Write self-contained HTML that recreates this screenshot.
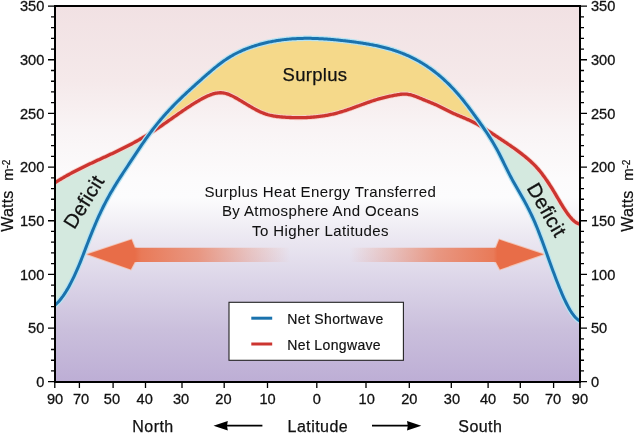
<!DOCTYPE html>
<html><head><meta charset="utf-8"><style>
html,body{margin:0;padding:0;background:#fff;}
svg{display:block;will-change:transform;font-family:"Liberation Sans",sans-serif;}
</style></head><body>
<svg width="638" height="436" viewBox="0 0 638 436">
<defs>
<linearGradient id="bg" x1="0" y1="6" x2="0" y2="382" gradientUnits="userSpaceOnUse">
<stop offset="0" stop-color="#f1e1e3"/>
<stop offset="0.197" stop-color="#f5e9ea"/>
<stop offset="0.33" stop-color="#f9f4f5"/>
<stop offset="0.46" stop-color="#fcfbfc"/>
<stop offset="0.51" stop-color="#fcfcfd"/>
<stop offset="0.598" stop-color="#eeebf3"/>
<stop offset="0.742" stop-color="#dad3e7"/>
<stop offset="0.862" stop-color="#cabfdc"/>
<stop offset="1" stop-color="#bdaed5"/>
</linearGradient>
<linearGradient id="la" x1="86" y1="0" x2="290" y2="0" gradientUnits="userSpaceOnUse">
<stop offset="0" stop-color="#e86d48"/>
<stop offset="0.24" stop-color="#e86d48"/>
<stop offset="0.27" stop-color="#e97a58"/>
<stop offset="0.55" stop-color="#e97a58" stop-opacity="0.72"/>
<stop offset="0.8" stop-color="#e97a58" stop-opacity="0.3"/>
<stop offset="1" stop-color="#e97a58" stop-opacity="0"/>
</linearGradient>
<linearGradient id="ra" x1="544" y1="0" x2="350" y2="0" gradientUnits="userSpaceOnUse">
<stop offset="0" stop-color="#e86d48"/>
<stop offset="0.24" stop-color="#e86d48"/>
<stop offset="0.26" stop-color="#e97a58"/>
<stop offset="0.55" stop-color="#e97a58" stop-opacity="0.72"/>
<stop offset="0.8" stop-color="#e97a58" stop-opacity="0.3"/>
<stop offset="1" stop-color="#e97a58" stop-opacity="0"/>
</linearGradient>
<clipPath id="mid"><rect x="151.7" y="0" width="330.8" height="400"/></clipPath>
<clipPath id="plot"><rect x="55" y="6" width="525" height="376"/></clipPath>
</defs>
<rect x="55" y="6" width="525" height="376" fill="url(#bg)"/>
<g clip-path="url(#plot)">
<path d="M55.0,182.71 L56.0,182.08 L57.0,181.45 L58.0,180.83 L59.0,180.21 L60.0,179.60 L61.0,179.00 L62.0,178.41 L63.0,177.82 L64.0,177.24 L65.0,176.66 L66.0,176.10 L67.0,175.53 L68.0,174.98 L69.0,174.43 L70.0,173.88 L71.0,173.34 L72.0,172.80 L73.0,172.27 L74.0,171.75 L75.0,171.23 L76.0,170.71 L77.0,170.20 L78.0,169.69 L79.0,169.18 L80.0,168.68 L81.0,168.19 L82.0,167.69 L83.0,167.20 L84.0,166.71 L85.0,166.23 L86.0,165.75 L87.0,165.27 L88.0,164.79 L89.0,164.32 L90.0,163.84 L91.0,163.37 L92.0,162.91 L93.0,162.44 L94.0,161.97 L95.0,161.51 L96.0,161.04 L97.0,160.58 L98.0,160.12 L99.0,159.66 L100.0,159.20 L101.0,158.74 L102.0,158.28 L103.0,157.82 L104.0,157.36 L105.0,156.90 L106.0,156.44 L107.0,155.97 L108.0,155.51 L109.0,155.05 L110.0,154.58 L111.0,154.11 L112.0,153.64 L113.0,153.17 L114.0,152.70 L115.0,152.23 L116.0,151.75 L117.0,151.27 L118.0,150.79 L119.0,150.31 L120.0,149.82 L121.0,149.33 L122.0,148.84 L123.0,148.34 L124.0,147.84 L125.0,147.33 L126.0,146.83 L127.0,146.31 L128.0,145.80 L129.0,145.28 L130.0,144.75 L131.0,144.22 L132.0,143.69 L133.0,143.15 L134.0,142.60 L135.0,142.05 L136.0,141.50 L137.0,140.94 L138.0,140.38 L139.0,139.81 L140.0,139.24 L141.0,138.66 L142.0,138.08 L143.0,137.49 L144.0,136.89 L145.0,136.30 L146.0,135.69 L147.0,135.08 L148.0,134.47 L149.0,133.85 L150.0,133.23 L151.0,132.60 L152.0,131.96 L153.0,131.32 L154.0,130.68 L155.0,130.03 L156.0,129.37 L157.0,128.71 L158.0,128.04 L159.0,127.37 L160.0,126.70 L161.0,126.02 L162.0,125.33 L163.0,124.64 L164.0,123.95 L165.0,123.26 L166.0,122.56 L167.0,121.86 L168.0,121.16 L169.0,120.46 L170.0,119.76 L171.0,119.05 L172.0,118.35 L173.0,117.64 L174.0,116.94 L175.0,116.23 L176.0,115.53 L177.0,114.83 L178.0,114.13 L179.0,113.44 L180.0,112.74 L181.0,112.05 L182.0,111.36 L183.0,110.67 L184.0,109.99 L185.0,109.32 L186.0,108.64 L187.0,107.98 L188.0,107.31 L189.0,106.66 L190.0,106.01 L191.0,105.36 L192.0,104.72 L193.0,104.09 L194.0,103.47 L195.0,102.86 L196.0,102.25 L197.0,101.65 L198.0,101.06 L199.0,100.48 L200.0,99.91 L201.0,99.35 L202.0,98.80 L203.0,98.26 L204.0,97.74 L205.0,97.23 L206.0,96.74 L207.0,96.27 L208.0,95.82 L209.0,95.40 L210.0,94.99 L211.0,94.61 L212.0,94.26 L213.0,93.94 L214.0,93.65 L215.0,93.40 L216.0,93.18 L217.0,93.01 L218.0,92.87 L219.0,92.78 L220.0,92.73 L221.0,92.73 L222.0,92.79 L223.0,92.89 L224.0,93.05 L225.0,93.26 L226.0,93.52 L227.0,93.82 L228.0,94.16 L229.0,94.54 L230.0,94.95 L231.0,95.39 L232.0,95.87 L233.0,96.37 L234.0,96.89 L235.0,97.43 L236.0,97.98 L237.0,98.55 L238.0,99.13 L239.0,99.72 L240.0,100.31 L241.0,100.91 L242.0,101.51 L243.0,102.11 L244.0,102.72 L245.0,103.33 L246.0,103.93 L247.0,104.54 L248.0,105.14 L249.0,105.73 L250.0,106.33 L251.0,106.91 L252.0,107.49 L253.0,108.06 L254.0,108.62 L255.0,109.16 L256.0,109.70 L257.0,110.22 L258.0,110.72 L259.0,111.21 L260.0,111.69 L261.0,112.14 L262.0,112.58 L263.0,112.99 L264.0,113.38 L265.0,113.75 L266.0,114.10 L267.0,114.42 L268.0,114.72 L269.0,114.99 L270.0,115.24 L271.0,115.48 L272.0,115.69 L273.0,115.88 L274.0,116.06 L275.0,116.22 L276.0,116.37 L277.0,116.50 L278.0,116.63 L279.0,116.73 L280.0,116.83 L281.0,116.92 L282.0,117.01 L283.0,117.08 L284.0,117.15 L285.0,117.22 L286.0,117.28 L287.0,117.33 L288.0,117.39 L289.0,117.44 L290.0,117.48 L291.0,117.52 L292.0,117.56 L293.0,117.59 L294.0,117.61 L295.0,117.63 L296.0,117.65 L297.0,117.66 L298.0,117.67 L299.0,117.67 L300.0,117.67 L301.0,117.66 L302.0,117.64 L303.0,117.62 L304.0,117.60 L305.0,117.56 L306.0,117.53 L307.0,117.48 L308.0,117.44 L309.0,117.38 L310.0,117.32 L311.0,117.25 L312.0,117.18 L313.0,117.10 L314.0,117.01 L315.0,116.92 L316.0,116.82 L317.0,116.71 L318.0,116.60 L319.0,116.48 L320.0,116.35 L321.0,116.22 L322.0,116.08 L323.0,115.93 L324.0,115.77 L325.0,115.61 L326.0,115.44 L327.0,115.26 L328.0,115.07 L329.0,114.87 L330.0,114.67 L331.0,114.46 L332.0,114.24 L333.0,114.02 L334.0,113.78 L335.0,113.54 L336.0,113.29 L337.0,113.03 L338.0,112.76 L339.0,112.48 L340.0,112.19 L341.0,111.90 L342.0,111.59 L343.0,111.28 L344.0,110.97 L345.0,110.64 L346.0,110.31 L347.0,109.98 L348.0,109.64 L349.0,109.29 L350.0,108.94 L351.0,108.59 L352.0,108.23 L353.0,107.87 L354.0,107.51 L355.0,107.15 L356.0,106.78 L357.0,106.41 L358.0,106.04 L359.0,105.68 L360.0,105.31 L361.0,104.94 L362.0,104.57 L363.0,104.21 L364.0,103.84 L365.0,103.48 L366.0,103.12 L367.0,102.77 L368.0,102.41 L369.0,102.07 L370.0,101.72 L371.0,101.38 L372.0,101.05 L373.0,100.72 L374.0,100.40 L375.0,100.09 L376.0,99.78 L377.0,99.48 L378.0,99.19 L379.0,98.90 L380.0,98.63 L381.0,98.36 L382.0,98.09 L383.0,97.84 L384.0,97.59 L385.0,97.34 L386.0,97.10 L387.0,96.87 L388.0,96.65 L389.0,96.42 L390.0,96.21 L391.0,96.00 L392.0,95.79 L393.0,95.59 L394.0,95.40 L395.0,95.21 L396.0,95.02 L397.0,94.84 L398.0,94.67 L399.0,94.51 L400.0,94.38 L401.0,94.26 L402.0,94.17 L403.0,94.11 L404.0,94.07 L405.0,94.08 L406.0,94.12 L407.0,94.21 L408.0,94.34 L409.0,94.51 L410.0,94.72 L411.0,94.96 L412.0,95.23 L413.0,95.53 L414.0,95.86 L415.0,96.20 L416.0,96.57 L417.0,96.96 L418.0,97.35 L419.0,97.76 L420.0,98.18 L421.0,98.60 L422.0,99.02 L423.0,99.44 L424.0,99.86 L425.0,100.27 L426.0,100.68 L427.0,101.08 L428.0,101.49 L429.0,101.89 L430.0,102.30 L431.0,102.71 L432.0,103.12 L433.0,103.54 L434.0,103.96 L435.0,104.39 L436.0,104.83 L437.0,105.27 L438.0,105.73 L439.0,106.20 L440.0,106.68 L441.0,107.17 L442.0,107.68 L443.0,108.19 L444.0,108.71 L445.0,109.24 L446.0,109.76 L447.0,110.27 L448.0,110.78 L449.0,111.29 L450.0,111.78 L451.0,112.25 L452.0,112.72 L453.0,113.18 L454.0,113.63 L455.0,114.07 L456.0,114.50 L457.0,114.93 L458.0,115.36 L459.0,115.78 L460.0,116.20 L461.0,116.62 L462.0,117.04 L463.0,117.46 L464.0,117.88 L465.0,118.31 L466.0,118.74 L467.0,119.18 L468.0,119.62 L469.0,120.07 L470.0,120.53 L471.0,121.00 L472.0,121.48 L473.0,121.98 L474.0,122.49 L475.0,123.01 L476.0,123.54 L477.0,124.09 L478.0,124.65 L479.0,125.22 L480.0,125.81 L481.0,126.40 L482.0,127.00 L483.0,127.61 L484.0,128.23 L485.0,128.86 L486.0,129.49 L487.0,130.13 L488.0,130.78 L489.0,131.43 L490.0,132.08 L491.0,132.74 L492.0,133.40 L493.0,134.07 L494.0,134.73 L495.0,135.40 L496.0,136.06 L497.0,136.73 L498.0,137.39 L499.0,138.06 L500.0,138.72 L501.0,139.38 L502.0,140.05 L503.0,140.71 L504.0,141.37 L505.0,142.04 L506.0,142.71 L507.0,143.38 L508.0,144.06 L509.0,144.74 L510.0,145.42 L511.0,146.11 L512.0,146.81 L513.0,147.51 L514.0,148.22 L515.0,148.93 L516.0,149.65 L517.0,150.38 L518.0,151.12 L519.0,151.87 L520.0,152.63 L521.0,153.39 L522.0,154.17 L523.0,154.96 L524.0,155.76 L525.0,156.58 L526.0,157.40 L527.0,158.24 L528.0,159.10 L529.0,159.96 L530.0,160.85 L531.0,161.75 L532.0,162.67 L533.0,163.62 L534.0,164.60 L535.0,165.61 L536.0,166.67 L537.0,167.77 L538.0,168.91 L539.0,170.09 L540.0,171.30 L541.0,172.55 L542.0,173.84 L543.0,175.16 L544.0,176.52 L545.0,177.91 L546.0,179.33 L547.0,180.78 L548.0,182.26 L549.0,183.78 L550.0,185.32 L551.0,186.89 L552.0,188.49 L553.0,190.11 L554.0,191.76 L555.0,193.43 L556.0,195.11 L557.0,196.80 L558.0,198.50 L559.0,200.18 L560.0,201.86 L561.0,203.53 L562.0,205.17 L563.0,206.78 L564.0,208.36 L565.0,209.90 L566.0,211.40 L567.0,212.84 L568.0,214.22 L569.0,215.55 L570.0,216.80 L571.0,217.97 L572.0,219.06 L573.0,220.07 L574.0,220.98 L575.0,221.79 L576.0,222.49 L577.0,223.09 L578.0,223.56 L579.0,223.91 L580.0,224.13 L580.0,320.98 L579.0,320.44 L578.0,319.77 L577.0,318.96 L576.0,318.03 L575.0,316.96 L574.0,315.78 L573.0,314.48 L572.0,313.07 L571.0,311.56 L570.0,309.94 L569.0,308.22 L568.0,306.41 L567.0,304.51 L566.0,302.52 L565.0,300.45 L564.0,298.30 L563.0,296.09 L562.0,293.80 L561.0,291.45 L560.0,289.05 L559.0,286.58 L558.0,284.07 L557.0,281.51 L556.0,278.91 L555.0,276.27 L554.0,273.60 L553.0,270.90 L552.0,268.18 L551.0,265.43 L550.0,262.67 L549.0,259.90 L548.0,257.13 L547.0,254.35 L546.0,251.57 L545.0,248.80 L544.0,246.04 L543.0,243.30 L542.0,240.57 L541.0,237.87 L540.0,235.21 L539.0,232.59 L538.0,230.02 L537.0,227.52 L536.0,225.08 L535.0,222.71 L534.0,220.41 L533.0,218.17 L532.0,215.99 L531.0,213.87 L530.0,211.81 L529.0,209.79 L528.0,207.82 L527.0,205.89 L526.0,204.00 L525.0,202.14 L524.0,200.31 L523.0,198.50 L522.0,196.72 L521.0,194.96 L520.0,193.21 L519.0,191.47 L518.0,189.73 L517.0,187.99 L516.0,186.24 L515.0,184.49 L514.0,182.71 L513.0,180.91 L512.0,179.09 L511.0,177.23 L510.0,175.34 L509.0,173.40 L508.0,171.42 L507.0,169.42 L506.0,167.39 L505.0,165.35 L504.0,163.30 L503.0,161.26 L502.0,159.23 L501.0,157.22 L500.0,155.23 L499.0,153.29 L498.0,151.39 L497.0,149.54 L496.0,147.73 L495.0,145.96 L494.0,144.23 L493.0,142.53 L492.0,140.88 L491.0,139.25 L490.0,137.65 L489.0,136.08 L488.0,134.54 L487.0,133.02 L486.0,131.52 L485.0,130.04 L484.0,128.58 L483.0,127.14 L482.0,125.70 L481.0,124.28 L480.0,122.87 L479.0,121.46 L478.0,120.06 L477.0,118.66 L476.0,117.27 L475.0,115.89 L474.0,114.51 L473.0,113.14 L472.0,111.78 L471.0,110.43 L470.0,109.09 L469.0,107.76 L468.0,106.44 L467.0,105.13 L466.0,103.84 L465.0,102.56 L464.0,101.30 L463.0,100.05 L462.0,98.82 L461.0,97.60 L460.0,96.40 L459.0,95.23 L458.0,94.06 L457.0,92.92 L456.0,91.80 L455.0,90.69 L454.0,89.60 L453.0,88.53 L452.0,87.48 L451.0,86.44 L450.0,85.42 L449.0,84.41 L448.0,83.43 L447.0,82.46 L446.0,81.50 L445.0,80.57 L444.0,79.64 L443.0,78.74 L442.0,77.85 L441.0,76.97 L440.0,76.11 L439.0,75.27 L438.0,74.44 L437.0,73.62 L436.0,72.82 L435.0,72.04 L434.0,71.27 L433.0,70.51 L432.0,69.77 L431.0,69.04 L430.0,68.32 L429.0,67.62 L428.0,66.93 L427.0,66.26 L426.0,65.59 L425.0,64.95 L424.0,64.31 L423.0,63.69 L422.0,63.07 L421.0,62.47 L420.0,61.89 L419.0,61.31 L418.0,60.75 L417.0,60.20 L416.0,59.66 L415.0,59.13 L414.0,58.61 L413.0,58.10 L412.0,57.60 L411.0,57.12 L410.0,56.64 L409.0,56.18 L408.0,55.72 L407.0,55.28 L406.0,54.84 L405.0,54.42 L404.0,54.00 L403.0,53.59 L402.0,53.19 L401.0,52.81 L400.0,52.43 L399.0,52.06 L398.0,51.69 L397.0,51.34 L396.0,50.99 L395.0,50.66 L394.0,50.33 L393.0,50.00 L392.0,49.69 L391.0,49.38 L390.0,49.08 L389.0,48.79 L388.0,48.51 L387.0,48.23 L386.0,47.96 L385.0,47.69 L384.0,47.44 L383.0,47.18 L382.0,46.94 L381.0,46.70 L380.0,46.47 L379.0,46.24 L378.0,46.02 L377.0,45.80 L376.0,45.59 L375.0,45.38 L374.0,45.18 L373.0,44.98 L372.0,44.79 L371.0,44.61 L370.0,44.42 L369.0,44.24 L368.0,44.07 L367.0,43.90 L366.0,43.73 L365.0,43.57 L364.0,43.41 L363.0,43.25 L362.0,43.10 L361.0,42.95 L360.0,42.80 L359.0,42.66 L358.0,42.52 L357.0,42.38 L356.0,42.24 L355.0,42.11 L354.0,41.97 L353.0,41.84 L352.0,41.71 L351.0,41.59 L350.0,41.46 L349.0,41.33 L348.0,41.21 L347.0,41.09 L346.0,40.97 L345.0,40.85 L344.0,40.74 L343.0,40.62 L342.0,40.51 L341.0,40.40 L340.0,40.29 L339.0,40.19 L338.0,40.08 L337.0,39.98 L336.0,39.88 L335.0,39.79 L334.0,39.69 L333.0,39.60 L332.0,39.51 L331.0,39.43 L330.0,39.34 L329.0,39.26 L328.0,39.18 L327.0,39.11 L326.0,39.04 L325.0,38.97 L324.0,38.90 L323.0,38.84 L322.0,38.78 L321.0,38.73 L320.0,38.68 L319.0,38.63 L318.0,38.58 L317.0,38.54 L316.0,38.50 L315.0,38.47 L314.0,38.44 L313.0,38.41 L312.0,38.39 L311.0,38.37 L310.0,38.36 L309.0,38.35 L308.0,38.34 L307.0,38.34 L306.0,38.34 L305.0,38.35 L304.0,38.36 L303.0,38.38 L302.0,38.40 L301.0,38.43 L300.0,38.46 L299.0,38.49 L298.0,38.53 L297.0,38.58 L296.0,38.63 L295.0,38.68 L294.0,38.74 L293.0,38.80 L292.0,38.87 L291.0,38.95 L290.0,39.03 L289.0,39.12 L288.0,39.21 L287.0,39.31 L286.0,39.41 L285.0,39.52 L284.0,39.63 L283.0,39.75 L282.0,39.88 L281.0,40.01 L280.0,40.15 L279.0,40.29 L278.0,40.45 L277.0,40.60 L276.0,40.77 L275.0,40.93 L274.0,41.11 L273.0,41.29 L272.0,41.48 L271.0,41.68 L270.0,41.88 L269.0,42.09 L268.0,42.30 L267.0,42.53 L266.0,42.76 L265.0,42.99 L264.0,43.23 L263.0,43.49 L262.0,43.74 L261.0,44.01 L260.0,44.28 L259.0,44.56 L258.0,44.85 L257.0,45.14 L256.0,45.45 L255.0,45.76 L254.0,46.07 L253.0,46.40 L252.0,46.73 L251.0,47.08 L250.0,47.43 L249.0,47.79 L248.0,48.16 L247.0,48.54 L246.0,48.93 L245.0,49.33 L244.0,49.75 L243.0,50.17 L242.0,50.61 L241.0,51.06 L240.0,51.52 L239.0,51.99 L238.0,52.48 L237.0,52.98 L236.0,53.49 L235.0,54.02 L234.0,54.56 L233.0,55.11 L232.0,55.68 L231.0,56.27 L230.0,56.87 L229.0,57.49 L228.0,58.12 L227.0,58.77 L226.0,59.44 L225.0,60.12 L224.0,60.82 L223.0,61.54 L222.0,62.26 L221.0,63.00 L220.0,63.76 L219.0,64.52 L218.0,65.30 L217.0,66.09 L216.0,66.89 L215.0,67.70 L214.0,68.52 L213.0,69.35 L212.0,70.18 L211.0,71.03 L210.0,71.88 L209.0,72.74 L208.0,73.60 L207.0,74.47 L206.0,75.35 L205.0,76.22 L204.0,77.11 L203.0,77.99 L202.0,78.88 L201.0,79.77 L200.0,80.66 L199.0,81.55 L198.0,82.44 L197.0,83.34 L196.0,84.23 L195.0,85.13 L194.0,86.03 L193.0,86.94 L192.0,87.84 L191.0,88.75 L190.0,89.67 L189.0,90.58 L188.0,91.51 L187.0,92.43 L186.0,93.36 L185.0,94.30 L184.0,95.25 L183.0,96.20 L182.0,97.15 L181.0,98.11 L180.0,99.08 L179.0,100.06 L178.0,101.05 L177.0,102.04 L176.0,103.04 L175.0,104.05 L174.0,105.07 L173.0,106.10 L172.0,107.14 L171.0,108.19 L170.0,109.25 L169.0,110.32 L168.0,111.40 L167.0,112.50 L166.0,113.60 L165.0,114.72 L164.0,115.85 L163.0,116.99 L162.0,118.15 L161.0,119.32 L160.0,120.50 L159.0,121.70 L158.0,122.91 L157.0,124.14 L156.0,125.38 L155.0,126.64 L154.0,127.92 L153.0,129.21 L152.0,130.51 L151.0,131.84 L150.0,133.18 L149.0,134.54 L148.0,135.91 L147.0,137.30 L146.0,138.70 L145.0,140.12 L144.0,141.55 L143.0,142.99 L142.0,144.44 L141.0,145.90 L140.0,147.38 L139.0,148.86 L138.0,150.34 L137.0,151.84 L136.0,153.34 L135.0,154.85 L134.0,156.36 L133.0,157.87 L132.0,159.39 L131.0,160.90 L130.0,162.42 L129.0,163.94 L128.0,165.46 L127.0,166.98 L126.0,168.49 L125.0,170.01 L124.0,171.53 L123.0,173.05 L122.0,174.59 L121.0,176.12 L120.0,177.67 L119.0,179.23 L118.0,180.81 L117.0,182.39 L116.0,184.00 L115.0,185.62 L114.0,187.27 L113.0,188.94 L112.0,190.63 L111.0,192.35 L110.0,194.10 L109.0,195.87 L108.0,197.68 L107.0,199.52 L106.0,201.40 L105.0,203.32 L104.0,205.27 L103.0,207.26 L102.0,209.30 L101.0,211.38 L100.0,213.51 L99.0,215.68 L98.0,217.91 L97.0,220.17 L96.0,222.48 L95.0,224.83 L94.0,227.22 L93.0,229.64 L92.0,232.10 L91.0,234.59 L90.0,237.10 L89.0,239.65 L88.0,242.21 L87.0,244.80 L86.0,247.41 L85.0,250.02 L84.0,252.63 L83.0,255.22 L82.0,257.79 L81.0,260.32 L80.0,262.81 L79.0,265.25 L78.0,267.64 L77.0,269.96 L76.0,272.23 L75.0,274.43 L74.0,276.58 L73.0,278.67 L72.0,280.69 L71.0,282.65 L70.0,284.55 L69.0,286.39 L68.0,288.16 L67.0,289.87 L66.0,291.52 L65.0,293.09 L64.0,294.61 L63.0,296.05 L62.0,297.42 L61.0,298.73 L60.0,299.97 L59.0,301.14 L58.0,302.24 L57.0,303.26 L56.0,304.22 L55.0,305.10 Z" fill="#d4e9df"/>
<path d="M55.0,182.71 L56.0,182.08 L57.0,181.45 L58.0,180.83 L59.0,180.21 L60.0,179.60 L61.0,179.00 L62.0,178.41 L63.0,177.82 L64.0,177.24 L65.0,176.66 L66.0,176.10 L67.0,175.53 L68.0,174.98 L69.0,174.43 L70.0,173.88 L71.0,173.34 L72.0,172.80 L73.0,172.27 L74.0,171.75 L75.0,171.23 L76.0,170.71 L77.0,170.20 L78.0,169.69 L79.0,169.18 L80.0,168.68 L81.0,168.19 L82.0,167.69 L83.0,167.20 L84.0,166.71 L85.0,166.23 L86.0,165.75 L87.0,165.27 L88.0,164.79 L89.0,164.32 L90.0,163.84 L91.0,163.37 L92.0,162.91 L93.0,162.44 L94.0,161.97 L95.0,161.51 L96.0,161.04 L97.0,160.58 L98.0,160.12 L99.0,159.66 L100.0,159.20 L101.0,158.74 L102.0,158.28 L103.0,157.82 L104.0,157.36 L105.0,156.90 L106.0,156.44 L107.0,155.97 L108.0,155.51 L109.0,155.05 L110.0,154.58 L111.0,154.11 L112.0,153.64 L113.0,153.17 L114.0,152.70 L115.0,152.23 L116.0,151.75 L117.0,151.27 L118.0,150.79 L119.0,150.31 L120.0,149.82 L121.0,149.33 L122.0,148.84 L123.0,148.34 L124.0,147.84 L125.0,147.33 L126.0,146.83 L127.0,146.31 L128.0,145.80 L129.0,145.28 L130.0,144.75 L131.0,144.22 L132.0,143.69 L133.0,143.15 L134.0,142.60 L135.0,142.05 L136.0,141.50 L137.0,140.94 L138.0,140.38 L139.0,139.81 L140.0,139.24 L141.0,138.66 L142.0,138.08 L143.0,137.49 L144.0,136.89 L145.0,136.30 L146.0,135.69 L147.0,135.08 L148.0,134.47 L149.0,133.85 L150.0,133.23 L151.0,132.60 L152.0,131.96 L153.0,131.32 L154.0,130.68 L155.0,130.03 L156.0,129.37 L157.0,128.71 L158.0,128.04 L159.0,127.37 L160.0,126.70 L161.0,126.02 L162.0,125.33 L163.0,124.64 L164.0,123.95 L165.0,123.26 L166.0,122.56 L167.0,121.86 L168.0,121.16 L169.0,120.46 L170.0,119.76 L171.0,119.05 L172.0,118.35 L173.0,117.64 L174.0,116.94 L175.0,116.23 L176.0,115.53 L177.0,114.83 L178.0,114.13 L179.0,113.44 L180.0,112.74 L181.0,112.05 L182.0,111.36 L183.0,110.67 L184.0,109.99 L185.0,109.32 L186.0,108.64 L187.0,107.98 L188.0,107.31 L189.0,106.66 L190.0,106.01 L191.0,105.36 L192.0,104.72 L193.0,104.09 L194.0,103.47 L195.0,102.86 L196.0,102.25 L197.0,101.65 L198.0,101.06 L199.0,100.48 L200.0,99.91 L201.0,99.35 L202.0,98.80 L203.0,98.26 L204.0,97.74 L205.0,97.23 L206.0,96.74 L207.0,96.27 L208.0,95.82 L209.0,95.40 L210.0,94.99 L211.0,94.61 L212.0,94.26 L213.0,93.94 L214.0,93.65 L215.0,93.40 L216.0,93.18 L217.0,93.01 L218.0,92.87 L219.0,92.78 L220.0,92.73 L221.0,92.73 L222.0,92.79 L223.0,92.89 L224.0,93.05 L225.0,93.26 L226.0,93.52 L227.0,93.82 L228.0,94.16 L229.0,94.54 L230.0,94.95 L231.0,95.39 L232.0,95.87 L233.0,96.37 L234.0,96.89 L235.0,97.43 L236.0,97.98 L237.0,98.55 L238.0,99.13 L239.0,99.72 L240.0,100.31 L241.0,100.91 L242.0,101.51 L243.0,102.11 L244.0,102.72 L245.0,103.33 L246.0,103.93 L247.0,104.54 L248.0,105.14 L249.0,105.73 L250.0,106.33 L251.0,106.91 L252.0,107.49 L253.0,108.06 L254.0,108.62 L255.0,109.16 L256.0,109.70 L257.0,110.22 L258.0,110.72 L259.0,111.21 L260.0,111.69 L261.0,112.14 L262.0,112.58 L263.0,112.99 L264.0,113.38 L265.0,113.75 L266.0,114.10 L267.0,114.42 L268.0,114.72 L269.0,114.99 L270.0,115.24 L271.0,115.48 L272.0,115.69 L273.0,115.88 L274.0,116.06 L275.0,116.22 L276.0,116.37 L277.0,116.50 L278.0,116.63 L279.0,116.73 L280.0,116.83 L281.0,116.92 L282.0,117.01 L283.0,117.08 L284.0,117.15 L285.0,117.22 L286.0,117.28 L287.0,117.33 L288.0,117.39 L289.0,117.44 L290.0,117.48 L291.0,117.52 L292.0,117.56 L293.0,117.59 L294.0,117.61 L295.0,117.63 L296.0,117.65 L297.0,117.66 L298.0,117.67 L299.0,117.67 L300.0,117.67 L301.0,117.66 L302.0,117.64 L303.0,117.62 L304.0,117.60 L305.0,117.56 L306.0,117.53 L307.0,117.48 L308.0,117.44 L309.0,117.38 L310.0,117.32 L311.0,117.25 L312.0,117.18 L313.0,117.10 L314.0,117.01 L315.0,116.92 L316.0,116.82 L317.0,116.71 L318.0,116.60 L319.0,116.48 L320.0,116.35 L321.0,116.22 L322.0,116.08 L323.0,115.93 L324.0,115.77 L325.0,115.61 L326.0,115.44 L327.0,115.26 L328.0,115.07 L329.0,114.87 L330.0,114.67 L331.0,114.46 L332.0,114.24 L333.0,114.02 L334.0,113.78 L335.0,113.54 L336.0,113.29 L337.0,113.03 L338.0,112.76 L339.0,112.48 L340.0,112.19 L341.0,111.90 L342.0,111.59 L343.0,111.28 L344.0,110.97 L345.0,110.64 L346.0,110.31 L347.0,109.98 L348.0,109.64 L349.0,109.29 L350.0,108.94 L351.0,108.59 L352.0,108.23 L353.0,107.87 L354.0,107.51 L355.0,107.15 L356.0,106.78 L357.0,106.41 L358.0,106.04 L359.0,105.68 L360.0,105.31 L361.0,104.94 L362.0,104.57 L363.0,104.21 L364.0,103.84 L365.0,103.48 L366.0,103.12 L367.0,102.77 L368.0,102.41 L369.0,102.07 L370.0,101.72 L371.0,101.38 L372.0,101.05 L373.0,100.72 L374.0,100.40 L375.0,100.09 L376.0,99.78 L377.0,99.48 L378.0,99.19 L379.0,98.90 L380.0,98.63 L381.0,98.36 L382.0,98.09 L383.0,97.84 L384.0,97.59 L385.0,97.34 L386.0,97.10 L387.0,96.87 L388.0,96.65 L389.0,96.42 L390.0,96.21 L391.0,96.00 L392.0,95.79 L393.0,95.59 L394.0,95.40 L395.0,95.21 L396.0,95.02 L397.0,94.84 L398.0,94.67 L399.0,94.51 L400.0,94.38 L401.0,94.26 L402.0,94.17 L403.0,94.11 L404.0,94.07 L405.0,94.08 L406.0,94.12 L407.0,94.21 L408.0,94.34 L409.0,94.51 L410.0,94.72 L411.0,94.96 L412.0,95.23 L413.0,95.53 L414.0,95.86 L415.0,96.20 L416.0,96.57 L417.0,96.96 L418.0,97.35 L419.0,97.76 L420.0,98.18 L421.0,98.60 L422.0,99.02 L423.0,99.44 L424.0,99.86 L425.0,100.27 L426.0,100.68 L427.0,101.08 L428.0,101.49 L429.0,101.89 L430.0,102.30 L431.0,102.71 L432.0,103.12 L433.0,103.54 L434.0,103.96 L435.0,104.39 L436.0,104.83 L437.0,105.27 L438.0,105.73 L439.0,106.20 L440.0,106.68 L441.0,107.17 L442.0,107.68 L443.0,108.19 L444.0,108.71 L445.0,109.24 L446.0,109.76 L447.0,110.27 L448.0,110.78 L449.0,111.29 L450.0,111.78 L451.0,112.25 L452.0,112.72 L453.0,113.18 L454.0,113.63 L455.0,114.07 L456.0,114.50 L457.0,114.93 L458.0,115.36 L459.0,115.78 L460.0,116.20 L461.0,116.62 L462.0,117.04 L463.0,117.46 L464.0,117.88 L465.0,118.31 L466.0,118.74 L467.0,119.18 L468.0,119.62 L469.0,120.07 L470.0,120.53 L471.0,121.00 L472.0,121.48 L473.0,121.98 L474.0,122.49 L475.0,123.01 L476.0,123.54 L477.0,124.09 L478.0,124.65 L479.0,125.22 L480.0,125.81 L481.0,126.40 L482.0,127.00 L483.0,127.61 L484.0,128.23 L485.0,128.86 L486.0,129.49 L487.0,130.13 L488.0,130.78 L489.0,131.43 L490.0,132.08 L491.0,132.74 L492.0,133.40 L493.0,134.07 L494.0,134.73 L495.0,135.40 L496.0,136.06 L497.0,136.73 L498.0,137.39 L499.0,138.06 L500.0,138.72 L501.0,139.38 L502.0,140.05 L503.0,140.71 L504.0,141.37 L505.0,142.04 L506.0,142.71 L507.0,143.38 L508.0,144.06 L509.0,144.74 L510.0,145.42 L511.0,146.11 L512.0,146.81 L513.0,147.51 L514.0,148.22 L515.0,148.93 L516.0,149.65 L517.0,150.38 L518.0,151.12 L519.0,151.87 L520.0,152.63 L521.0,153.39 L522.0,154.17 L523.0,154.96 L524.0,155.76 L525.0,156.58 L526.0,157.40 L527.0,158.24 L528.0,159.10 L529.0,159.96 L530.0,160.85 L531.0,161.75 L532.0,162.67 L533.0,163.62 L534.0,164.60 L535.0,165.61 L536.0,166.67 L537.0,167.77 L538.0,168.91 L539.0,170.09 L540.0,171.30 L541.0,172.55 L542.0,173.84 L543.0,175.16 L544.0,176.52 L545.0,177.91 L546.0,179.33 L547.0,180.78 L548.0,182.26 L549.0,183.78 L550.0,185.32 L551.0,186.89 L552.0,188.49 L553.0,190.11 L554.0,191.76 L555.0,193.43 L556.0,195.11 L557.0,196.80 L558.0,198.50 L559.0,200.18 L560.0,201.86 L561.0,203.53 L562.0,205.17 L563.0,206.78 L564.0,208.36 L565.0,209.90 L566.0,211.40 L567.0,212.84 L568.0,214.22 L569.0,215.55 L570.0,216.80 L571.0,217.97 L572.0,219.06 L573.0,220.07 L574.0,220.98 L575.0,221.79 L576.0,222.49 L577.0,223.09 L578.0,223.56 L579.0,223.91 L580.0,224.13 L580.0,320.98 L579.0,320.44 L578.0,319.77 L577.0,318.96 L576.0,318.03 L575.0,316.96 L574.0,315.78 L573.0,314.48 L572.0,313.07 L571.0,311.56 L570.0,309.94 L569.0,308.22 L568.0,306.41 L567.0,304.51 L566.0,302.52 L565.0,300.45 L564.0,298.30 L563.0,296.09 L562.0,293.80 L561.0,291.45 L560.0,289.05 L559.0,286.58 L558.0,284.07 L557.0,281.51 L556.0,278.91 L555.0,276.27 L554.0,273.60 L553.0,270.90 L552.0,268.18 L551.0,265.43 L550.0,262.67 L549.0,259.90 L548.0,257.13 L547.0,254.35 L546.0,251.57 L545.0,248.80 L544.0,246.04 L543.0,243.30 L542.0,240.57 L541.0,237.87 L540.0,235.21 L539.0,232.59 L538.0,230.02 L537.0,227.52 L536.0,225.08 L535.0,222.71 L534.0,220.41 L533.0,218.17 L532.0,215.99 L531.0,213.87 L530.0,211.81 L529.0,209.79 L528.0,207.82 L527.0,205.89 L526.0,204.00 L525.0,202.14 L524.0,200.31 L523.0,198.50 L522.0,196.72 L521.0,194.96 L520.0,193.21 L519.0,191.47 L518.0,189.73 L517.0,187.99 L516.0,186.24 L515.0,184.49 L514.0,182.71 L513.0,180.91 L512.0,179.09 L511.0,177.23 L510.0,175.34 L509.0,173.40 L508.0,171.42 L507.0,169.42 L506.0,167.39 L505.0,165.35 L504.0,163.30 L503.0,161.26 L502.0,159.23 L501.0,157.22 L500.0,155.23 L499.0,153.29 L498.0,151.39 L497.0,149.54 L496.0,147.73 L495.0,145.96 L494.0,144.23 L493.0,142.53 L492.0,140.88 L491.0,139.25 L490.0,137.65 L489.0,136.08 L488.0,134.54 L487.0,133.02 L486.0,131.52 L485.0,130.04 L484.0,128.58 L483.0,127.14 L482.0,125.70 L481.0,124.28 L480.0,122.87 L479.0,121.46 L478.0,120.06 L477.0,118.66 L476.0,117.27 L475.0,115.89 L474.0,114.51 L473.0,113.14 L472.0,111.78 L471.0,110.43 L470.0,109.09 L469.0,107.76 L468.0,106.44 L467.0,105.13 L466.0,103.84 L465.0,102.56 L464.0,101.30 L463.0,100.05 L462.0,98.82 L461.0,97.60 L460.0,96.40 L459.0,95.23 L458.0,94.06 L457.0,92.92 L456.0,91.80 L455.0,90.69 L454.0,89.60 L453.0,88.53 L452.0,87.48 L451.0,86.44 L450.0,85.42 L449.0,84.41 L448.0,83.43 L447.0,82.46 L446.0,81.50 L445.0,80.57 L444.0,79.64 L443.0,78.74 L442.0,77.85 L441.0,76.97 L440.0,76.11 L439.0,75.27 L438.0,74.44 L437.0,73.62 L436.0,72.82 L435.0,72.04 L434.0,71.27 L433.0,70.51 L432.0,69.77 L431.0,69.04 L430.0,68.32 L429.0,67.62 L428.0,66.93 L427.0,66.26 L426.0,65.59 L425.0,64.95 L424.0,64.31 L423.0,63.69 L422.0,63.07 L421.0,62.47 L420.0,61.89 L419.0,61.31 L418.0,60.75 L417.0,60.20 L416.0,59.66 L415.0,59.13 L414.0,58.61 L413.0,58.10 L412.0,57.60 L411.0,57.12 L410.0,56.64 L409.0,56.18 L408.0,55.72 L407.0,55.28 L406.0,54.84 L405.0,54.42 L404.0,54.00 L403.0,53.59 L402.0,53.19 L401.0,52.81 L400.0,52.43 L399.0,52.06 L398.0,51.69 L397.0,51.34 L396.0,50.99 L395.0,50.66 L394.0,50.33 L393.0,50.00 L392.0,49.69 L391.0,49.38 L390.0,49.08 L389.0,48.79 L388.0,48.51 L387.0,48.23 L386.0,47.96 L385.0,47.69 L384.0,47.44 L383.0,47.18 L382.0,46.94 L381.0,46.70 L380.0,46.47 L379.0,46.24 L378.0,46.02 L377.0,45.80 L376.0,45.59 L375.0,45.38 L374.0,45.18 L373.0,44.98 L372.0,44.79 L371.0,44.61 L370.0,44.42 L369.0,44.24 L368.0,44.07 L367.0,43.90 L366.0,43.73 L365.0,43.57 L364.0,43.41 L363.0,43.25 L362.0,43.10 L361.0,42.95 L360.0,42.80 L359.0,42.66 L358.0,42.52 L357.0,42.38 L356.0,42.24 L355.0,42.11 L354.0,41.97 L353.0,41.84 L352.0,41.71 L351.0,41.59 L350.0,41.46 L349.0,41.33 L348.0,41.21 L347.0,41.09 L346.0,40.97 L345.0,40.85 L344.0,40.74 L343.0,40.62 L342.0,40.51 L341.0,40.40 L340.0,40.29 L339.0,40.19 L338.0,40.08 L337.0,39.98 L336.0,39.88 L335.0,39.79 L334.0,39.69 L333.0,39.60 L332.0,39.51 L331.0,39.43 L330.0,39.34 L329.0,39.26 L328.0,39.18 L327.0,39.11 L326.0,39.04 L325.0,38.97 L324.0,38.90 L323.0,38.84 L322.0,38.78 L321.0,38.73 L320.0,38.68 L319.0,38.63 L318.0,38.58 L317.0,38.54 L316.0,38.50 L315.0,38.47 L314.0,38.44 L313.0,38.41 L312.0,38.39 L311.0,38.37 L310.0,38.36 L309.0,38.35 L308.0,38.34 L307.0,38.34 L306.0,38.34 L305.0,38.35 L304.0,38.36 L303.0,38.38 L302.0,38.40 L301.0,38.43 L300.0,38.46 L299.0,38.49 L298.0,38.53 L297.0,38.58 L296.0,38.63 L295.0,38.68 L294.0,38.74 L293.0,38.80 L292.0,38.87 L291.0,38.95 L290.0,39.03 L289.0,39.12 L288.0,39.21 L287.0,39.31 L286.0,39.41 L285.0,39.52 L284.0,39.63 L283.0,39.75 L282.0,39.88 L281.0,40.01 L280.0,40.15 L279.0,40.29 L278.0,40.45 L277.0,40.60 L276.0,40.77 L275.0,40.93 L274.0,41.11 L273.0,41.29 L272.0,41.48 L271.0,41.68 L270.0,41.88 L269.0,42.09 L268.0,42.30 L267.0,42.53 L266.0,42.76 L265.0,42.99 L264.0,43.23 L263.0,43.49 L262.0,43.74 L261.0,44.01 L260.0,44.28 L259.0,44.56 L258.0,44.85 L257.0,45.14 L256.0,45.45 L255.0,45.76 L254.0,46.07 L253.0,46.40 L252.0,46.73 L251.0,47.08 L250.0,47.43 L249.0,47.79 L248.0,48.16 L247.0,48.54 L246.0,48.93 L245.0,49.33 L244.0,49.75 L243.0,50.17 L242.0,50.61 L241.0,51.06 L240.0,51.52 L239.0,51.99 L238.0,52.48 L237.0,52.98 L236.0,53.49 L235.0,54.02 L234.0,54.56 L233.0,55.11 L232.0,55.68 L231.0,56.27 L230.0,56.87 L229.0,57.49 L228.0,58.12 L227.0,58.77 L226.0,59.44 L225.0,60.12 L224.0,60.82 L223.0,61.54 L222.0,62.26 L221.0,63.00 L220.0,63.76 L219.0,64.52 L218.0,65.30 L217.0,66.09 L216.0,66.89 L215.0,67.70 L214.0,68.52 L213.0,69.35 L212.0,70.18 L211.0,71.03 L210.0,71.88 L209.0,72.74 L208.0,73.60 L207.0,74.47 L206.0,75.35 L205.0,76.22 L204.0,77.11 L203.0,77.99 L202.0,78.88 L201.0,79.77 L200.0,80.66 L199.0,81.55 L198.0,82.44 L197.0,83.34 L196.0,84.23 L195.0,85.13 L194.0,86.03 L193.0,86.94 L192.0,87.84 L191.0,88.75 L190.0,89.67 L189.0,90.58 L188.0,91.51 L187.0,92.43 L186.0,93.36 L185.0,94.30 L184.0,95.25 L183.0,96.20 L182.0,97.15 L181.0,98.11 L180.0,99.08 L179.0,100.06 L178.0,101.05 L177.0,102.04 L176.0,103.04 L175.0,104.05 L174.0,105.07 L173.0,106.10 L172.0,107.14 L171.0,108.19 L170.0,109.25 L169.0,110.32 L168.0,111.40 L167.0,112.50 L166.0,113.60 L165.0,114.72 L164.0,115.85 L163.0,116.99 L162.0,118.15 L161.0,119.32 L160.0,120.50 L159.0,121.70 L158.0,122.91 L157.0,124.14 L156.0,125.38 L155.0,126.64 L154.0,127.92 L153.0,129.21 L152.0,130.51 L151.0,131.84 L150.0,133.18 L149.0,134.54 L148.0,135.91 L147.0,137.30 L146.0,138.70 L145.0,140.12 L144.0,141.55 L143.0,142.99 L142.0,144.44 L141.0,145.90 L140.0,147.38 L139.0,148.86 L138.0,150.34 L137.0,151.84 L136.0,153.34 L135.0,154.85 L134.0,156.36 L133.0,157.87 L132.0,159.39 L131.0,160.90 L130.0,162.42 L129.0,163.94 L128.0,165.46 L127.0,166.98 L126.0,168.49 L125.0,170.01 L124.0,171.53 L123.0,173.05 L122.0,174.59 L121.0,176.12 L120.0,177.67 L119.0,179.23 L118.0,180.81 L117.0,182.39 L116.0,184.00 L115.0,185.62 L114.0,187.27 L113.0,188.94 L112.0,190.63 L111.0,192.35 L110.0,194.10 L109.0,195.87 L108.0,197.68 L107.0,199.52 L106.0,201.40 L105.0,203.32 L104.0,205.27 L103.0,207.26 L102.0,209.30 L101.0,211.38 L100.0,213.51 L99.0,215.68 L98.0,217.91 L97.0,220.17 L96.0,222.48 L95.0,224.83 L94.0,227.22 L93.0,229.64 L92.0,232.10 L91.0,234.59 L90.0,237.10 L89.0,239.65 L88.0,242.21 L87.0,244.80 L86.0,247.41 L85.0,250.02 L84.0,252.63 L83.0,255.22 L82.0,257.79 L81.0,260.32 L80.0,262.81 L79.0,265.25 L78.0,267.64 L77.0,269.96 L76.0,272.23 L75.0,274.43 L74.0,276.58 L73.0,278.67 L72.0,280.69 L71.0,282.65 L70.0,284.55 L69.0,286.39 L68.0,288.16 L67.0,289.87 L66.0,291.52 L65.0,293.09 L64.0,294.61 L63.0,296.05 L62.0,297.42 L61.0,298.73 L60.0,299.97 L59.0,301.14 L58.0,302.24 L57.0,303.26 L56.0,304.22 L55.0,305.10 Z" fill="#f5d98a" clip-path="url(#mid)"/>
<path d="M87.2,254.3 L131.5,239.6 L134.8,247.7 L135.5,247.7 L135.5,262.1 L134.8,262.1 L130.8,269.4 Z" fill="none" stroke="#f3c3b3" stroke-width="2" stroke-linejoin="round"/><path d="M87.2,254.3 L131.5,239.6 L134.8,247.7 L290,247.7 L290,262.1 L134.8,262.1 L130.8,269.4 Z" fill="url(#la)"/>
<path d="M543.5,254.3 L499.2,239.6 L495.9,247.7 L495.2,247.7 L495.2,262.1 L495.9,262.1 L499.9,269.4 Z" fill="none" stroke="#f3c3b3" stroke-width="2" stroke-linejoin="round"/><path d="M543.5,254.3 L499.2,239.6 L495.9,247.7 L350,247.7 L350,262.1 L495.9,262.1 L499.9,269.4 Z" fill="url(#ra)"/>
<path d="M55.0,182.71 L56.0,182.08 L57.0,181.45 L58.0,180.83 L59.0,180.21 L60.0,179.60 L61.0,179.00 L62.0,178.41 L63.0,177.82 L64.0,177.24 L65.0,176.66 L66.0,176.10 L67.0,175.53 L68.0,174.98 L69.0,174.43 L70.0,173.88 L71.0,173.34 L72.0,172.80 L73.0,172.27 L74.0,171.75 L75.0,171.23 L76.0,170.71 L77.0,170.20 L78.0,169.69 L79.0,169.18 L80.0,168.68 L81.0,168.19 L82.0,167.69 L83.0,167.20 L84.0,166.71 L85.0,166.23 L86.0,165.75 L87.0,165.27 L88.0,164.79 L89.0,164.32 L90.0,163.84 L91.0,163.37 L92.0,162.91 L93.0,162.44 L94.0,161.97 L95.0,161.51 L96.0,161.04 L97.0,160.58 L98.0,160.12 L99.0,159.66 L100.0,159.20 L101.0,158.74 L102.0,158.28 L103.0,157.82 L104.0,157.36 L105.0,156.90 L106.0,156.44 L107.0,155.97 L108.0,155.51 L109.0,155.05 L110.0,154.58 L111.0,154.11 L112.0,153.64 L113.0,153.17 L114.0,152.70 L115.0,152.23 L116.0,151.75 L117.0,151.27 L118.0,150.79 L119.0,150.31 L120.0,149.82 L121.0,149.33 L122.0,148.84 L123.0,148.34 L124.0,147.84 L125.0,147.33 L126.0,146.83 L127.0,146.31 L128.0,145.80 L129.0,145.28 L130.0,144.75 L131.0,144.22 L132.0,143.69 L133.0,143.15 L134.0,142.60 L135.0,142.05 L136.0,141.50 L137.0,140.94 L138.0,140.38 L139.0,139.81 L140.0,139.24 L141.0,138.66 L142.0,138.08 L143.0,137.49 L144.0,136.89 L145.0,136.30 L146.0,135.69 L147.0,135.08 L148.0,134.47 L149.0,133.85 L150.0,133.23 L151.0,132.60 L152.0,131.96 L153.0,131.32 L154.0,130.68 L155.0,130.03 L156.0,129.37 L157.0,128.71 L158.0,128.04 L159.0,127.37 L160.0,126.70 L161.0,126.02 L162.0,125.33 L163.0,124.64 L164.0,123.95 L165.0,123.26 L166.0,122.56 L167.0,121.86 L168.0,121.16 L169.0,120.46 L170.0,119.76 L171.0,119.05 L172.0,118.35 L173.0,117.64 L174.0,116.94 L175.0,116.23 L176.0,115.53 L177.0,114.83 L178.0,114.13 L179.0,113.44 L180.0,112.74 L181.0,112.05 L182.0,111.36 L183.0,110.67 L184.0,109.99 L185.0,109.32 L186.0,108.64 L187.0,107.98 L188.0,107.31 L189.0,106.66 L190.0,106.01 L191.0,105.36 L192.0,104.72 L193.0,104.09 L194.0,103.47 L195.0,102.86 L196.0,102.25 L197.0,101.65 L198.0,101.06 L199.0,100.48 L200.0,99.91 L201.0,99.35 L202.0,98.80 L203.0,98.26 L204.0,97.74 L205.0,97.23 L206.0,96.74 L207.0,96.27 L208.0,95.82 L209.0,95.40 L210.0,94.99 L211.0,94.61 L212.0,94.26 L213.0,93.94 L214.0,93.65 L215.0,93.40 L216.0,93.18 L217.0,93.01 L218.0,92.87 L219.0,92.78 L220.0,92.73 L221.0,92.73 L222.0,92.79 L223.0,92.89 L224.0,93.05 L225.0,93.26 L226.0,93.52 L227.0,93.82 L228.0,94.16 L229.0,94.54 L230.0,94.95 L231.0,95.39 L232.0,95.87 L233.0,96.37 L234.0,96.89 L235.0,97.43 L236.0,97.98 L237.0,98.55 L238.0,99.13 L239.0,99.72 L240.0,100.31 L241.0,100.91 L242.0,101.51 L243.0,102.11 L244.0,102.72 L245.0,103.33 L246.0,103.93 L247.0,104.54 L248.0,105.14 L249.0,105.73 L250.0,106.33 L251.0,106.91 L252.0,107.49 L253.0,108.06 L254.0,108.62 L255.0,109.16 L256.0,109.70 L257.0,110.22 L258.0,110.72 L259.0,111.21 L260.0,111.69 L261.0,112.14 L262.0,112.58 L263.0,112.99 L264.0,113.38 L265.0,113.75 L266.0,114.10 L267.0,114.42 L268.0,114.72 L269.0,114.99 L270.0,115.24 L271.0,115.48 L272.0,115.69 L273.0,115.88 L274.0,116.06 L275.0,116.22 L276.0,116.37 L277.0,116.50 L278.0,116.63 L279.0,116.73 L280.0,116.83 L281.0,116.92 L282.0,117.01 L283.0,117.08 L284.0,117.15 L285.0,117.22 L286.0,117.28 L287.0,117.33 L288.0,117.39 L289.0,117.44 L290.0,117.48 L291.0,117.52 L292.0,117.56 L293.0,117.59 L294.0,117.61 L295.0,117.63 L296.0,117.65 L297.0,117.66 L298.0,117.67 L299.0,117.67 L300.0,117.67 L301.0,117.66 L302.0,117.64 L303.0,117.62 L304.0,117.60 L305.0,117.56 L306.0,117.53 L307.0,117.48 L308.0,117.44 L309.0,117.38 L310.0,117.32 L311.0,117.25 L312.0,117.18 L313.0,117.10 L314.0,117.01 L315.0,116.92 L316.0,116.82 L317.0,116.71 L318.0,116.60 L319.0,116.48 L320.0,116.35 L321.0,116.22 L322.0,116.08 L323.0,115.93 L324.0,115.77 L325.0,115.61 L326.0,115.44 L327.0,115.26 L328.0,115.07 L329.0,114.87 L330.0,114.67 L331.0,114.46 L332.0,114.24 L333.0,114.02 L334.0,113.78 L335.0,113.54 L336.0,113.29 L337.0,113.03 L338.0,112.76 L339.0,112.48 L340.0,112.19 L341.0,111.90 L342.0,111.59 L343.0,111.28 L344.0,110.97 L345.0,110.64 L346.0,110.31 L347.0,109.98 L348.0,109.64 L349.0,109.29 L350.0,108.94 L351.0,108.59 L352.0,108.23 L353.0,107.87 L354.0,107.51 L355.0,107.15 L356.0,106.78 L357.0,106.41 L358.0,106.04 L359.0,105.68 L360.0,105.31 L361.0,104.94 L362.0,104.57 L363.0,104.21 L364.0,103.84 L365.0,103.48 L366.0,103.12 L367.0,102.77 L368.0,102.41 L369.0,102.07 L370.0,101.72 L371.0,101.38 L372.0,101.05 L373.0,100.72 L374.0,100.40 L375.0,100.09 L376.0,99.78 L377.0,99.48 L378.0,99.19 L379.0,98.90 L380.0,98.63 L381.0,98.36 L382.0,98.09 L383.0,97.84 L384.0,97.59 L385.0,97.34 L386.0,97.10 L387.0,96.87 L388.0,96.65 L389.0,96.42 L390.0,96.21 L391.0,96.00 L392.0,95.79 L393.0,95.59 L394.0,95.40 L395.0,95.21 L396.0,95.02 L397.0,94.84 L398.0,94.67 L399.0,94.51 L400.0,94.38 L401.0,94.26 L402.0,94.17 L403.0,94.11 L404.0,94.07 L405.0,94.08 L406.0,94.12 L407.0,94.21 L408.0,94.34 L409.0,94.51 L410.0,94.72 L411.0,94.96 L412.0,95.23 L413.0,95.53 L414.0,95.86 L415.0,96.20 L416.0,96.57 L417.0,96.96 L418.0,97.35 L419.0,97.76 L420.0,98.18 L421.0,98.60 L422.0,99.02 L423.0,99.44 L424.0,99.86 L425.0,100.27 L426.0,100.68 L427.0,101.08 L428.0,101.49 L429.0,101.89 L430.0,102.30 L431.0,102.71 L432.0,103.12 L433.0,103.54 L434.0,103.96 L435.0,104.39 L436.0,104.83 L437.0,105.27 L438.0,105.73 L439.0,106.20 L440.0,106.68 L441.0,107.17 L442.0,107.68 L443.0,108.19 L444.0,108.71 L445.0,109.24 L446.0,109.76 L447.0,110.27 L448.0,110.78 L449.0,111.29 L450.0,111.78 L451.0,112.25 L452.0,112.72 L453.0,113.18 L454.0,113.63 L455.0,114.07 L456.0,114.50 L457.0,114.93 L458.0,115.36 L459.0,115.78 L460.0,116.20 L461.0,116.62 L462.0,117.04 L463.0,117.46 L464.0,117.88 L465.0,118.31 L466.0,118.74 L467.0,119.18 L468.0,119.62 L469.0,120.07 L470.0,120.53 L471.0,121.00 L472.0,121.48 L473.0,121.98 L474.0,122.49 L475.0,123.01 L476.0,123.54 L477.0,124.09 L478.0,124.65 L479.0,125.22 L480.0,125.81 L481.0,126.40 L482.0,127.00 L483.0,127.61 L484.0,128.23 L485.0,128.86 L486.0,129.49 L487.0,130.13 L488.0,130.78 L489.0,131.43 L490.0,132.08 L491.0,132.74 L492.0,133.40 L493.0,134.07 L494.0,134.73 L495.0,135.40 L496.0,136.06 L497.0,136.73 L498.0,137.39 L499.0,138.06 L500.0,138.72 L501.0,139.38 L502.0,140.05 L503.0,140.71 L504.0,141.37 L505.0,142.04 L506.0,142.71 L507.0,143.38 L508.0,144.06 L509.0,144.74 L510.0,145.42 L511.0,146.11 L512.0,146.81 L513.0,147.51 L514.0,148.22 L515.0,148.93 L516.0,149.65 L517.0,150.38 L518.0,151.12 L519.0,151.87 L520.0,152.63 L521.0,153.39 L522.0,154.17 L523.0,154.96 L524.0,155.76 L525.0,156.58 L526.0,157.40 L527.0,158.24 L528.0,159.10 L529.0,159.96 L530.0,160.85 L531.0,161.75 L532.0,162.67 L533.0,163.62 L534.0,164.60 L535.0,165.61 L536.0,166.67 L537.0,167.77 L538.0,168.91 L539.0,170.09 L540.0,171.30 L541.0,172.55 L542.0,173.84 L543.0,175.16 L544.0,176.52 L545.0,177.91 L546.0,179.33 L547.0,180.78 L548.0,182.26 L549.0,183.78 L550.0,185.32 L551.0,186.89 L552.0,188.49 L553.0,190.11 L554.0,191.76 L555.0,193.43 L556.0,195.11 L557.0,196.80 L558.0,198.50 L559.0,200.18 L560.0,201.86 L561.0,203.53 L562.0,205.17 L563.0,206.78 L564.0,208.36 L565.0,209.90 L566.0,211.40 L567.0,212.84 L568.0,214.22 L569.0,215.55 L570.0,216.80 L571.0,217.97 L572.0,219.06 L573.0,220.07 L574.0,220.98 L575.0,221.79 L576.0,222.49 L577.0,223.09 L578.0,223.56 L579.0,223.91 L580.0,224.13" fill="none" stroke="#f8d2cc" stroke-width="5"/>
<path d="M55.0,182.71 L56.0,182.08 L57.0,181.45 L58.0,180.83 L59.0,180.21 L60.0,179.60 L61.0,179.00 L62.0,178.41 L63.0,177.82 L64.0,177.24 L65.0,176.66 L66.0,176.10 L67.0,175.53 L68.0,174.98 L69.0,174.43 L70.0,173.88 L71.0,173.34 L72.0,172.80 L73.0,172.27 L74.0,171.75 L75.0,171.23 L76.0,170.71 L77.0,170.20 L78.0,169.69 L79.0,169.18 L80.0,168.68 L81.0,168.19 L82.0,167.69 L83.0,167.20 L84.0,166.71 L85.0,166.23 L86.0,165.75 L87.0,165.27 L88.0,164.79 L89.0,164.32 L90.0,163.84 L91.0,163.37 L92.0,162.91 L93.0,162.44 L94.0,161.97 L95.0,161.51 L96.0,161.04 L97.0,160.58 L98.0,160.12 L99.0,159.66 L100.0,159.20 L101.0,158.74 L102.0,158.28 L103.0,157.82 L104.0,157.36 L105.0,156.90 L106.0,156.44 L107.0,155.97 L108.0,155.51 L109.0,155.05 L110.0,154.58 L111.0,154.11 L112.0,153.64 L113.0,153.17 L114.0,152.70 L115.0,152.23 L116.0,151.75 L117.0,151.27 L118.0,150.79 L119.0,150.31 L120.0,149.82 L121.0,149.33 L122.0,148.84 L123.0,148.34 L124.0,147.84 L125.0,147.33 L126.0,146.83 L127.0,146.31 L128.0,145.80 L129.0,145.28 L130.0,144.75 L131.0,144.22 L132.0,143.69 L133.0,143.15 L134.0,142.60 L135.0,142.05 L136.0,141.50 L137.0,140.94 L138.0,140.38 L139.0,139.81 L140.0,139.24 L141.0,138.66 L142.0,138.08 L143.0,137.49 L144.0,136.89 L145.0,136.30 L146.0,135.69 L147.0,135.08 L148.0,134.47 L149.0,133.85 L150.0,133.23 L151.0,132.60 L152.0,131.96 L153.0,131.32 L154.0,130.68 L155.0,130.03 L156.0,129.37 L157.0,128.71 L158.0,128.04 L159.0,127.37 L160.0,126.70 L161.0,126.02 L162.0,125.33 L163.0,124.64 L164.0,123.95 L165.0,123.26 L166.0,122.56 L167.0,121.86 L168.0,121.16 L169.0,120.46 L170.0,119.76 L171.0,119.05 L172.0,118.35 L173.0,117.64 L174.0,116.94 L175.0,116.23 L176.0,115.53 L177.0,114.83 L178.0,114.13 L179.0,113.44 L180.0,112.74 L181.0,112.05 L182.0,111.36 L183.0,110.67 L184.0,109.99 L185.0,109.32 L186.0,108.64 L187.0,107.98 L188.0,107.31 L189.0,106.66 L190.0,106.01 L191.0,105.36 L192.0,104.72 L193.0,104.09 L194.0,103.47 L195.0,102.86 L196.0,102.25 L197.0,101.65 L198.0,101.06 L199.0,100.48 L200.0,99.91 L201.0,99.35 L202.0,98.80 L203.0,98.26 L204.0,97.74 L205.0,97.23 L206.0,96.74 L207.0,96.27 L208.0,95.82 L209.0,95.40 L210.0,94.99 L211.0,94.61 L212.0,94.26 L213.0,93.94 L214.0,93.65 L215.0,93.40 L216.0,93.18 L217.0,93.01 L218.0,92.87 L219.0,92.78 L220.0,92.73 L221.0,92.73 L222.0,92.79 L223.0,92.89 L224.0,93.05 L225.0,93.26 L226.0,93.52 L227.0,93.82 L228.0,94.16 L229.0,94.54 L230.0,94.95 L231.0,95.39 L232.0,95.87 L233.0,96.37 L234.0,96.89 L235.0,97.43 L236.0,97.98 L237.0,98.55 L238.0,99.13 L239.0,99.72 L240.0,100.31 L241.0,100.91 L242.0,101.51 L243.0,102.11 L244.0,102.72 L245.0,103.33 L246.0,103.93 L247.0,104.54 L248.0,105.14 L249.0,105.73 L250.0,106.33 L251.0,106.91 L252.0,107.49 L253.0,108.06 L254.0,108.62 L255.0,109.16 L256.0,109.70 L257.0,110.22 L258.0,110.72 L259.0,111.21 L260.0,111.69 L261.0,112.14 L262.0,112.58 L263.0,112.99 L264.0,113.38 L265.0,113.75 L266.0,114.10 L267.0,114.42 L268.0,114.72 L269.0,114.99 L270.0,115.24 L271.0,115.48 L272.0,115.69 L273.0,115.88 L274.0,116.06 L275.0,116.22 L276.0,116.37 L277.0,116.50 L278.0,116.63 L279.0,116.73 L280.0,116.83 L281.0,116.92 L282.0,117.01 L283.0,117.08 L284.0,117.15 L285.0,117.22 L286.0,117.28 L287.0,117.33 L288.0,117.39 L289.0,117.44 L290.0,117.48 L291.0,117.52 L292.0,117.56 L293.0,117.59 L294.0,117.61 L295.0,117.63 L296.0,117.65 L297.0,117.66 L298.0,117.67 L299.0,117.67 L300.0,117.67 L301.0,117.66 L302.0,117.64 L303.0,117.62 L304.0,117.60 L305.0,117.56 L306.0,117.53 L307.0,117.48 L308.0,117.44 L309.0,117.38 L310.0,117.32 L311.0,117.25 L312.0,117.18 L313.0,117.10 L314.0,117.01 L315.0,116.92 L316.0,116.82 L317.0,116.71 L318.0,116.60 L319.0,116.48 L320.0,116.35 L321.0,116.22 L322.0,116.08 L323.0,115.93 L324.0,115.77 L325.0,115.61 L326.0,115.44 L327.0,115.26 L328.0,115.07 L329.0,114.87 L330.0,114.67 L331.0,114.46 L332.0,114.24 L333.0,114.02 L334.0,113.78 L335.0,113.54 L336.0,113.29 L337.0,113.03 L338.0,112.76 L339.0,112.48 L340.0,112.19 L341.0,111.90 L342.0,111.59 L343.0,111.28 L344.0,110.97 L345.0,110.64 L346.0,110.31 L347.0,109.98 L348.0,109.64 L349.0,109.29 L350.0,108.94 L351.0,108.59 L352.0,108.23 L353.0,107.87 L354.0,107.51 L355.0,107.15 L356.0,106.78 L357.0,106.41 L358.0,106.04 L359.0,105.68 L360.0,105.31 L361.0,104.94 L362.0,104.57 L363.0,104.21 L364.0,103.84 L365.0,103.48 L366.0,103.12 L367.0,102.77 L368.0,102.41 L369.0,102.07 L370.0,101.72 L371.0,101.38 L372.0,101.05 L373.0,100.72 L374.0,100.40 L375.0,100.09 L376.0,99.78 L377.0,99.48 L378.0,99.19 L379.0,98.90 L380.0,98.63 L381.0,98.36 L382.0,98.09 L383.0,97.84 L384.0,97.59 L385.0,97.34 L386.0,97.10 L387.0,96.87 L388.0,96.65 L389.0,96.42 L390.0,96.21 L391.0,96.00 L392.0,95.79 L393.0,95.59 L394.0,95.40 L395.0,95.21 L396.0,95.02 L397.0,94.84 L398.0,94.67 L399.0,94.51 L400.0,94.38 L401.0,94.26 L402.0,94.17 L403.0,94.11 L404.0,94.07 L405.0,94.08 L406.0,94.12 L407.0,94.21 L408.0,94.34 L409.0,94.51 L410.0,94.72 L411.0,94.96 L412.0,95.23 L413.0,95.53 L414.0,95.86 L415.0,96.20 L416.0,96.57 L417.0,96.96 L418.0,97.35 L419.0,97.76 L420.0,98.18 L421.0,98.60 L422.0,99.02 L423.0,99.44 L424.0,99.86 L425.0,100.27 L426.0,100.68 L427.0,101.08 L428.0,101.49 L429.0,101.89 L430.0,102.30 L431.0,102.71 L432.0,103.12 L433.0,103.54 L434.0,103.96 L435.0,104.39 L436.0,104.83 L437.0,105.27 L438.0,105.73 L439.0,106.20 L440.0,106.68 L441.0,107.17 L442.0,107.68 L443.0,108.19 L444.0,108.71 L445.0,109.24 L446.0,109.76 L447.0,110.27 L448.0,110.78 L449.0,111.29 L450.0,111.78 L451.0,112.25 L452.0,112.72 L453.0,113.18 L454.0,113.63 L455.0,114.07 L456.0,114.50 L457.0,114.93 L458.0,115.36 L459.0,115.78 L460.0,116.20 L461.0,116.62 L462.0,117.04 L463.0,117.46 L464.0,117.88 L465.0,118.31 L466.0,118.74 L467.0,119.18 L468.0,119.62 L469.0,120.07 L470.0,120.53 L471.0,121.00 L472.0,121.48 L473.0,121.98 L474.0,122.49 L475.0,123.01 L476.0,123.54 L477.0,124.09 L478.0,124.65 L479.0,125.22 L480.0,125.81 L481.0,126.40 L482.0,127.00 L483.0,127.61 L484.0,128.23 L485.0,128.86 L486.0,129.49 L487.0,130.13 L488.0,130.78 L489.0,131.43 L490.0,132.08 L491.0,132.74 L492.0,133.40 L493.0,134.07 L494.0,134.73 L495.0,135.40 L496.0,136.06 L497.0,136.73 L498.0,137.39 L499.0,138.06 L500.0,138.72 L501.0,139.38 L502.0,140.05 L503.0,140.71 L504.0,141.37 L505.0,142.04 L506.0,142.71 L507.0,143.38 L508.0,144.06 L509.0,144.74 L510.0,145.42 L511.0,146.11 L512.0,146.81 L513.0,147.51 L514.0,148.22 L515.0,148.93 L516.0,149.65 L517.0,150.38 L518.0,151.12 L519.0,151.87 L520.0,152.63 L521.0,153.39 L522.0,154.17 L523.0,154.96 L524.0,155.76 L525.0,156.58 L526.0,157.40 L527.0,158.24 L528.0,159.10 L529.0,159.96 L530.0,160.85 L531.0,161.75 L532.0,162.67 L533.0,163.62 L534.0,164.60 L535.0,165.61 L536.0,166.67 L537.0,167.77 L538.0,168.91 L539.0,170.09 L540.0,171.30 L541.0,172.55 L542.0,173.84 L543.0,175.16 L544.0,176.52 L545.0,177.91 L546.0,179.33 L547.0,180.78 L548.0,182.26 L549.0,183.78 L550.0,185.32 L551.0,186.89 L552.0,188.49 L553.0,190.11 L554.0,191.76 L555.0,193.43 L556.0,195.11 L557.0,196.80 L558.0,198.50 L559.0,200.18 L560.0,201.86 L561.0,203.53 L562.0,205.17 L563.0,206.78 L564.0,208.36 L565.0,209.90 L566.0,211.40 L567.0,212.84 L568.0,214.22 L569.0,215.55 L570.0,216.80 L571.0,217.97 L572.0,219.06 L573.0,220.07 L574.0,220.98 L575.0,221.79 L576.0,222.49 L577.0,223.09 L578.0,223.56 L579.0,223.91 L580.0,224.13" fill="none" stroke="#cc3530" stroke-width="3.3"/>
<path d="M55.0,305.10 L56.0,304.22 L57.0,303.26 L58.0,302.24 L59.0,301.14 L60.0,299.97 L61.0,298.73 L62.0,297.42 L63.0,296.05 L64.0,294.61 L65.0,293.09 L66.0,291.52 L67.0,289.87 L68.0,288.16 L69.0,286.39 L70.0,284.55 L71.0,282.65 L72.0,280.69 L73.0,278.67 L74.0,276.58 L75.0,274.43 L76.0,272.23 L77.0,269.96 L78.0,267.64 L79.0,265.25 L80.0,262.81 L81.0,260.32 L82.0,257.79 L83.0,255.22 L84.0,252.63 L85.0,250.02 L86.0,247.41 L87.0,244.80 L88.0,242.21 L89.0,239.65 L90.0,237.10 L91.0,234.59 L92.0,232.10 L93.0,229.64 L94.0,227.22 L95.0,224.83 L96.0,222.48 L97.0,220.17 L98.0,217.91 L99.0,215.68 L100.0,213.51 L101.0,211.38 L102.0,209.30 L103.0,207.26 L104.0,205.27 L105.0,203.32 L106.0,201.40 L107.0,199.52 L108.0,197.68 L109.0,195.87 L110.0,194.10 L111.0,192.35 L112.0,190.63 L113.0,188.94 L114.0,187.27 L115.0,185.62 L116.0,184.00 L117.0,182.39 L118.0,180.81 L119.0,179.23 L120.0,177.67 L121.0,176.12 L122.0,174.59 L123.0,173.05 L124.0,171.53 L125.0,170.01 L126.0,168.49 L127.0,166.98 L128.0,165.46 L129.0,163.94 L130.0,162.42 L131.0,160.90 L132.0,159.39 L133.0,157.87 L134.0,156.36 L135.0,154.85 L136.0,153.34 L137.0,151.84 L138.0,150.34 L139.0,148.86 L140.0,147.38 L141.0,145.90 L142.0,144.44 L143.0,142.99 L144.0,141.55 L145.0,140.12 L146.0,138.70 L147.0,137.30 L148.0,135.91 L149.0,134.54 L150.0,133.18 L151.0,131.84 L152.0,130.51 L153.0,129.21 L154.0,127.92 L155.0,126.64 L156.0,125.38 L157.0,124.14 L158.0,122.91 L159.0,121.70 L160.0,120.50 L161.0,119.32 L162.0,118.15 L163.0,116.99 L164.0,115.85 L165.0,114.72 L166.0,113.60 L167.0,112.50 L168.0,111.40 L169.0,110.32 L170.0,109.25 L171.0,108.19 L172.0,107.14 L173.0,106.10 L174.0,105.07 L175.0,104.05 L176.0,103.04 L177.0,102.04 L178.0,101.05 L179.0,100.06 L180.0,99.08 L181.0,98.11 L182.0,97.15 L183.0,96.20 L184.0,95.25 L185.0,94.30 L186.0,93.36 L187.0,92.43 L188.0,91.51 L189.0,90.58 L190.0,89.67 L191.0,88.75 L192.0,87.84 L193.0,86.94 L194.0,86.03 L195.0,85.13 L196.0,84.23 L197.0,83.34 L198.0,82.44 L199.0,81.55 L200.0,80.66 L201.0,79.77 L202.0,78.88 L203.0,77.99 L204.0,77.11 L205.0,76.22 L206.0,75.35 L207.0,74.47 L208.0,73.60 L209.0,72.74 L210.0,71.88 L211.0,71.03 L212.0,70.18 L213.0,69.35 L214.0,68.52 L215.0,67.70 L216.0,66.89 L217.0,66.09 L218.0,65.30 L219.0,64.52 L220.0,63.76 L221.0,63.00 L222.0,62.26 L223.0,61.54 L224.0,60.82 L225.0,60.12 L226.0,59.44 L227.0,58.77 L228.0,58.12 L229.0,57.49 L230.0,56.87 L231.0,56.27 L232.0,55.68 L233.0,55.11 L234.0,54.56 L235.0,54.02 L236.0,53.49 L237.0,52.98 L238.0,52.48 L239.0,51.99 L240.0,51.52 L241.0,51.06 L242.0,50.61 L243.0,50.17 L244.0,49.75 L245.0,49.33 L246.0,48.93 L247.0,48.54 L248.0,48.16 L249.0,47.79 L250.0,47.43 L251.0,47.08 L252.0,46.73 L253.0,46.40 L254.0,46.07 L255.0,45.76 L256.0,45.45 L257.0,45.14 L258.0,44.85 L259.0,44.56 L260.0,44.28 L261.0,44.01 L262.0,43.74 L263.0,43.49 L264.0,43.23 L265.0,42.99 L266.0,42.76 L267.0,42.53 L268.0,42.30 L269.0,42.09 L270.0,41.88 L271.0,41.68 L272.0,41.48 L273.0,41.29 L274.0,41.11 L275.0,40.93 L276.0,40.77 L277.0,40.60 L278.0,40.45 L279.0,40.29 L280.0,40.15 L281.0,40.01 L282.0,39.88 L283.0,39.75 L284.0,39.63 L285.0,39.52 L286.0,39.41 L287.0,39.31 L288.0,39.21 L289.0,39.12 L290.0,39.03 L291.0,38.95 L292.0,38.87 L293.0,38.80 L294.0,38.74 L295.0,38.68 L296.0,38.63 L297.0,38.58 L298.0,38.53 L299.0,38.49 L300.0,38.46 L301.0,38.43 L302.0,38.40 L303.0,38.38 L304.0,38.36 L305.0,38.35 L306.0,38.34 L307.0,38.34 L308.0,38.34 L309.0,38.35 L310.0,38.36 L311.0,38.37 L312.0,38.39 L313.0,38.41 L314.0,38.44 L315.0,38.47 L316.0,38.50 L317.0,38.54 L318.0,38.58 L319.0,38.63 L320.0,38.68 L321.0,38.73 L322.0,38.78 L323.0,38.84 L324.0,38.90 L325.0,38.97 L326.0,39.04 L327.0,39.11 L328.0,39.18 L329.0,39.26 L330.0,39.34 L331.0,39.43 L332.0,39.51 L333.0,39.60 L334.0,39.69 L335.0,39.79 L336.0,39.88 L337.0,39.98 L338.0,40.08 L339.0,40.19 L340.0,40.29 L341.0,40.40 L342.0,40.51 L343.0,40.62 L344.0,40.74 L345.0,40.85 L346.0,40.97 L347.0,41.09 L348.0,41.21 L349.0,41.33 L350.0,41.46 L351.0,41.59 L352.0,41.71 L353.0,41.84 L354.0,41.97 L355.0,42.11 L356.0,42.24 L357.0,42.38 L358.0,42.52 L359.0,42.66 L360.0,42.80 L361.0,42.95 L362.0,43.10 L363.0,43.25 L364.0,43.41 L365.0,43.57 L366.0,43.73 L367.0,43.90 L368.0,44.07 L369.0,44.24 L370.0,44.42 L371.0,44.61 L372.0,44.79 L373.0,44.98 L374.0,45.18 L375.0,45.38 L376.0,45.59 L377.0,45.80 L378.0,46.02 L379.0,46.24 L380.0,46.47 L381.0,46.70 L382.0,46.94 L383.0,47.18 L384.0,47.44 L385.0,47.69 L386.0,47.96 L387.0,48.23 L388.0,48.51 L389.0,48.79 L390.0,49.08 L391.0,49.38 L392.0,49.69 L393.0,50.00 L394.0,50.33 L395.0,50.66 L396.0,50.99 L397.0,51.34 L398.0,51.69 L399.0,52.06 L400.0,52.43 L401.0,52.81 L402.0,53.19 L403.0,53.59 L404.0,54.00 L405.0,54.42 L406.0,54.84 L407.0,55.28 L408.0,55.72 L409.0,56.18 L410.0,56.64 L411.0,57.12 L412.0,57.60 L413.0,58.10 L414.0,58.61 L415.0,59.13 L416.0,59.66 L417.0,60.20 L418.0,60.75 L419.0,61.31 L420.0,61.89 L421.0,62.47 L422.0,63.07 L423.0,63.69 L424.0,64.31 L425.0,64.95 L426.0,65.59 L427.0,66.26 L428.0,66.93 L429.0,67.62 L430.0,68.32 L431.0,69.04 L432.0,69.77 L433.0,70.51 L434.0,71.27 L435.0,72.04 L436.0,72.82 L437.0,73.62 L438.0,74.44 L439.0,75.27 L440.0,76.11 L441.0,76.97 L442.0,77.85 L443.0,78.74 L444.0,79.64 L445.0,80.57 L446.0,81.50 L447.0,82.46 L448.0,83.43 L449.0,84.41 L450.0,85.42 L451.0,86.44 L452.0,87.48 L453.0,88.53 L454.0,89.60 L455.0,90.69 L456.0,91.80 L457.0,92.92 L458.0,94.06 L459.0,95.23 L460.0,96.40 L461.0,97.60 L462.0,98.82 L463.0,100.05 L464.0,101.30 L465.0,102.56 L466.0,103.84 L467.0,105.13 L468.0,106.44 L469.0,107.76 L470.0,109.09 L471.0,110.43 L472.0,111.78 L473.0,113.14 L474.0,114.51 L475.0,115.89 L476.0,117.27 L477.0,118.66 L478.0,120.06 L479.0,121.46 L480.0,122.87 L481.0,124.28 L482.0,125.70 L483.0,127.14 L484.0,128.58 L485.0,130.04 L486.0,131.52 L487.0,133.02 L488.0,134.54 L489.0,136.08 L490.0,137.65 L491.0,139.25 L492.0,140.88 L493.0,142.53 L494.0,144.23 L495.0,145.96 L496.0,147.73 L497.0,149.54 L498.0,151.39 L499.0,153.29 L500.0,155.23 L501.0,157.22 L502.0,159.23 L503.0,161.26 L504.0,163.30 L505.0,165.35 L506.0,167.39 L507.0,169.42 L508.0,171.42 L509.0,173.40 L510.0,175.34 L511.0,177.23 L512.0,179.09 L513.0,180.91 L514.0,182.71 L515.0,184.49 L516.0,186.24 L517.0,187.99 L518.0,189.73 L519.0,191.47 L520.0,193.21 L521.0,194.96 L522.0,196.72 L523.0,198.50 L524.0,200.31 L525.0,202.14 L526.0,204.00 L527.0,205.89 L528.0,207.82 L529.0,209.79 L530.0,211.81 L531.0,213.87 L532.0,215.99 L533.0,218.17 L534.0,220.41 L535.0,222.71 L536.0,225.08 L537.0,227.52 L538.0,230.02 L539.0,232.59 L540.0,235.21 L541.0,237.87 L542.0,240.57 L543.0,243.30 L544.0,246.04 L545.0,248.80 L546.0,251.57 L547.0,254.35 L548.0,257.13 L549.0,259.90 L550.0,262.67 L551.0,265.43 L552.0,268.18 L553.0,270.90 L554.0,273.60 L555.0,276.27 L556.0,278.91 L557.0,281.51 L558.0,284.07 L559.0,286.58 L560.0,289.05 L561.0,291.45 L562.0,293.80 L563.0,296.09 L564.0,298.30 L565.0,300.45 L566.0,302.52 L567.0,304.51 L568.0,306.41 L569.0,308.22 L570.0,309.94 L571.0,311.56 L572.0,313.07 L573.0,314.48 L574.0,315.78 L575.0,316.96 L576.0,318.03 L577.0,318.96 L578.0,319.77 L579.0,320.44 L580.0,320.98" fill="none" stroke="#b5e3f3" stroke-width="5.5"/>
<path d="M55.0,305.10 L56.0,304.22 L57.0,303.26 L58.0,302.24 L59.0,301.14 L60.0,299.97 L61.0,298.73 L62.0,297.42 L63.0,296.05 L64.0,294.61 L65.0,293.09 L66.0,291.52 L67.0,289.87 L68.0,288.16 L69.0,286.39 L70.0,284.55 L71.0,282.65 L72.0,280.69 L73.0,278.67 L74.0,276.58 L75.0,274.43 L76.0,272.23 L77.0,269.96 L78.0,267.64 L79.0,265.25 L80.0,262.81 L81.0,260.32 L82.0,257.79 L83.0,255.22 L84.0,252.63 L85.0,250.02 L86.0,247.41 L87.0,244.80 L88.0,242.21 L89.0,239.65 L90.0,237.10 L91.0,234.59 L92.0,232.10 L93.0,229.64 L94.0,227.22 L95.0,224.83 L96.0,222.48 L97.0,220.17 L98.0,217.91 L99.0,215.68 L100.0,213.51 L101.0,211.38 L102.0,209.30 L103.0,207.26 L104.0,205.27 L105.0,203.32 L106.0,201.40 L107.0,199.52 L108.0,197.68 L109.0,195.87 L110.0,194.10 L111.0,192.35 L112.0,190.63 L113.0,188.94 L114.0,187.27 L115.0,185.62 L116.0,184.00 L117.0,182.39 L118.0,180.81 L119.0,179.23 L120.0,177.67 L121.0,176.12 L122.0,174.59 L123.0,173.05 L124.0,171.53 L125.0,170.01 L126.0,168.49 L127.0,166.98 L128.0,165.46 L129.0,163.94 L130.0,162.42 L131.0,160.90 L132.0,159.39 L133.0,157.87 L134.0,156.36 L135.0,154.85 L136.0,153.34 L137.0,151.84 L138.0,150.34 L139.0,148.86 L140.0,147.38 L141.0,145.90 L142.0,144.44 L143.0,142.99 L144.0,141.55 L145.0,140.12 L146.0,138.70 L147.0,137.30 L148.0,135.91 L149.0,134.54 L150.0,133.18 L151.0,131.84 L152.0,130.51 L153.0,129.21 L154.0,127.92 L155.0,126.64 L156.0,125.38 L157.0,124.14 L158.0,122.91 L159.0,121.70 L160.0,120.50 L161.0,119.32 L162.0,118.15 L163.0,116.99 L164.0,115.85 L165.0,114.72 L166.0,113.60 L167.0,112.50 L168.0,111.40 L169.0,110.32 L170.0,109.25 L171.0,108.19 L172.0,107.14 L173.0,106.10 L174.0,105.07 L175.0,104.05 L176.0,103.04 L177.0,102.04 L178.0,101.05 L179.0,100.06 L180.0,99.08 L181.0,98.11 L182.0,97.15 L183.0,96.20 L184.0,95.25 L185.0,94.30 L186.0,93.36 L187.0,92.43 L188.0,91.51 L189.0,90.58 L190.0,89.67 L191.0,88.75 L192.0,87.84 L193.0,86.94 L194.0,86.03 L195.0,85.13 L196.0,84.23 L197.0,83.34 L198.0,82.44 L199.0,81.55 L200.0,80.66 L201.0,79.77 L202.0,78.88 L203.0,77.99 L204.0,77.11 L205.0,76.22 L206.0,75.35 L207.0,74.47 L208.0,73.60 L209.0,72.74 L210.0,71.88 L211.0,71.03 L212.0,70.18 L213.0,69.35 L214.0,68.52 L215.0,67.70 L216.0,66.89 L217.0,66.09 L218.0,65.30 L219.0,64.52 L220.0,63.76 L221.0,63.00 L222.0,62.26 L223.0,61.54 L224.0,60.82 L225.0,60.12 L226.0,59.44 L227.0,58.77 L228.0,58.12 L229.0,57.49 L230.0,56.87 L231.0,56.27 L232.0,55.68 L233.0,55.11 L234.0,54.56 L235.0,54.02 L236.0,53.49 L237.0,52.98 L238.0,52.48 L239.0,51.99 L240.0,51.52 L241.0,51.06 L242.0,50.61 L243.0,50.17 L244.0,49.75 L245.0,49.33 L246.0,48.93 L247.0,48.54 L248.0,48.16 L249.0,47.79 L250.0,47.43 L251.0,47.08 L252.0,46.73 L253.0,46.40 L254.0,46.07 L255.0,45.76 L256.0,45.45 L257.0,45.14 L258.0,44.85 L259.0,44.56 L260.0,44.28 L261.0,44.01 L262.0,43.74 L263.0,43.49 L264.0,43.23 L265.0,42.99 L266.0,42.76 L267.0,42.53 L268.0,42.30 L269.0,42.09 L270.0,41.88 L271.0,41.68 L272.0,41.48 L273.0,41.29 L274.0,41.11 L275.0,40.93 L276.0,40.77 L277.0,40.60 L278.0,40.45 L279.0,40.29 L280.0,40.15 L281.0,40.01 L282.0,39.88 L283.0,39.75 L284.0,39.63 L285.0,39.52 L286.0,39.41 L287.0,39.31 L288.0,39.21 L289.0,39.12 L290.0,39.03 L291.0,38.95 L292.0,38.87 L293.0,38.80 L294.0,38.74 L295.0,38.68 L296.0,38.63 L297.0,38.58 L298.0,38.53 L299.0,38.49 L300.0,38.46 L301.0,38.43 L302.0,38.40 L303.0,38.38 L304.0,38.36 L305.0,38.35 L306.0,38.34 L307.0,38.34 L308.0,38.34 L309.0,38.35 L310.0,38.36 L311.0,38.37 L312.0,38.39 L313.0,38.41 L314.0,38.44 L315.0,38.47 L316.0,38.50 L317.0,38.54 L318.0,38.58 L319.0,38.63 L320.0,38.68 L321.0,38.73 L322.0,38.78 L323.0,38.84 L324.0,38.90 L325.0,38.97 L326.0,39.04 L327.0,39.11 L328.0,39.18 L329.0,39.26 L330.0,39.34 L331.0,39.43 L332.0,39.51 L333.0,39.60 L334.0,39.69 L335.0,39.79 L336.0,39.88 L337.0,39.98 L338.0,40.08 L339.0,40.19 L340.0,40.29 L341.0,40.40 L342.0,40.51 L343.0,40.62 L344.0,40.74 L345.0,40.85 L346.0,40.97 L347.0,41.09 L348.0,41.21 L349.0,41.33 L350.0,41.46 L351.0,41.59 L352.0,41.71 L353.0,41.84 L354.0,41.97 L355.0,42.11 L356.0,42.24 L357.0,42.38 L358.0,42.52 L359.0,42.66 L360.0,42.80 L361.0,42.95 L362.0,43.10 L363.0,43.25 L364.0,43.41 L365.0,43.57 L366.0,43.73 L367.0,43.90 L368.0,44.07 L369.0,44.24 L370.0,44.42 L371.0,44.61 L372.0,44.79 L373.0,44.98 L374.0,45.18 L375.0,45.38 L376.0,45.59 L377.0,45.80 L378.0,46.02 L379.0,46.24 L380.0,46.47 L381.0,46.70 L382.0,46.94 L383.0,47.18 L384.0,47.44 L385.0,47.69 L386.0,47.96 L387.0,48.23 L388.0,48.51 L389.0,48.79 L390.0,49.08 L391.0,49.38 L392.0,49.69 L393.0,50.00 L394.0,50.33 L395.0,50.66 L396.0,50.99 L397.0,51.34 L398.0,51.69 L399.0,52.06 L400.0,52.43 L401.0,52.81 L402.0,53.19 L403.0,53.59 L404.0,54.00 L405.0,54.42 L406.0,54.84 L407.0,55.28 L408.0,55.72 L409.0,56.18 L410.0,56.64 L411.0,57.12 L412.0,57.60 L413.0,58.10 L414.0,58.61 L415.0,59.13 L416.0,59.66 L417.0,60.20 L418.0,60.75 L419.0,61.31 L420.0,61.89 L421.0,62.47 L422.0,63.07 L423.0,63.69 L424.0,64.31 L425.0,64.95 L426.0,65.59 L427.0,66.26 L428.0,66.93 L429.0,67.62 L430.0,68.32 L431.0,69.04 L432.0,69.77 L433.0,70.51 L434.0,71.27 L435.0,72.04 L436.0,72.82 L437.0,73.62 L438.0,74.44 L439.0,75.27 L440.0,76.11 L441.0,76.97 L442.0,77.85 L443.0,78.74 L444.0,79.64 L445.0,80.57 L446.0,81.50 L447.0,82.46 L448.0,83.43 L449.0,84.41 L450.0,85.42 L451.0,86.44 L452.0,87.48 L453.0,88.53 L454.0,89.60 L455.0,90.69 L456.0,91.80 L457.0,92.92 L458.0,94.06 L459.0,95.23 L460.0,96.40 L461.0,97.60 L462.0,98.82 L463.0,100.05 L464.0,101.30 L465.0,102.56 L466.0,103.84 L467.0,105.13 L468.0,106.44 L469.0,107.76 L470.0,109.09 L471.0,110.43 L472.0,111.78 L473.0,113.14 L474.0,114.51 L475.0,115.89 L476.0,117.27 L477.0,118.66 L478.0,120.06 L479.0,121.46 L480.0,122.87 L481.0,124.28 L482.0,125.70 L483.0,127.14 L484.0,128.58 L485.0,130.04 L486.0,131.52 L487.0,133.02 L488.0,134.54 L489.0,136.08 L490.0,137.65 L491.0,139.25 L492.0,140.88 L493.0,142.53 L494.0,144.23 L495.0,145.96 L496.0,147.73 L497.0,149.54 L498.0,151.39 L499.0,153.29 L500.0,155.23 L501.0,157.22 L502.0,159.23 L503.0,161.26 L504.0,163.30 L505.0,165.35 L506.0,167.39 L507.0,169.42 L508.0,171.42 L509.0,173.40 L510.0,175.34 L511.0,177.23 L512.0,179.09 L513.0,180.91 L514.0,182.71 L515.0,184.49 L516.0,186.24 L517.0,187.99 L518.0,189.73 L519.0,191.47 L520.0,193.21 L521.0,194.96 L522.0,196.72 L523.0,198.50 L524.0,200.31 L525.0,202.14 L526.0,204.00 L527.0,205.89 L528.0,207.82 L529.0,209.79 L530.0,211.81 L531.0,213.87 L532.0,215.99 L533.0,218.17 L534.0,220.41 L535.0,222.71 L536.0,225.08 L537.0,227.52 L538.0,230.02 L539.0,232.59 L540.0,235.21 L541.0,237.87 L542.0,240.57 L543.0,243.30 L544.0,246.04 L545.0,248.80 L546.0,251.57 L547.0,254.35 L548.0,257.13 L549.0,259.90 L550.0,262.67 L551.0,265.43 L552.0,268.18 L553.0,270.90 L554.0,273.60 L555.0,276.27 L556.0,278.91 L557.0,281.51 L558.0,284.07 L559.0,286.58 L560.0,289.05 L561.0,291.45 L562.0,293.80 L563.0,296.09 L564.0,298.30 L565.0,300.45 L566.0,302.52 L567.0,304.51 L568.0,306.41 L569.0,308.22 L570.0,309.94 L571.0,311.56 L572.0,313.07 L573.0,314.48 L574.0,315.78 L575.0,316.96 L576.0,318.03 L577.0,318.96 L578.0,319.77 L579.0,320.44 L580.0,320.98" fill="none" stroke="#1a72ad" stroke-width="3"/>
</g>
<rect x="55" y="6" width="525" height="376" fill="none" stroke="#000" stroke-width="2"/>
<path d="M48.0,381.70H55.0 M580.0,381.70H587.0 M51.0,370.97H55.0 M580.0,370.97H584.0 M51.0,360.24H55.0 M580.0,360.24H584.0 M51.0,349.51H55.0 M580.0,349.51H584.0 M51.0,338.78H55.0 M580.0,338.78H584.0 M48.0,328.05H55.0 M580.0,328.05H587.0 M51.0,317.31H55.0 M580.0,317.31H584.0 M51.0,306.58H55.0 M580.0,306.58H584.0 M51.0,295.85H55.0 M580.0,295.85H584.0 M51.0,285.12H55.0 M580.0,285.12H584.0 M48.0,274.39H55.0 M580.0,274.39H587.0 M51.0,263.66H55.0 M580.0,263.66H584.0 M51.0,252.93H55.0 M580.0,252.93H584.0 M51.0,242.20H55.0 M580.0,242.20H584.0 M51.0,231.47H55.0 M580.0,231.47H584.0 M48.0,220.73H55.0 M580.0,220.73H587.0 M51.0,210.00H55.0 M580.0,210.00H584.0 M51.0,199.27H55.0 M580.0,199.27H584.0 M51.0,188.54H55.0 M580.0,188.54H584.0 M51.0,177.81H55.0 M580.0,177.81H584.0 M48.0,167.08H55.0 M580.0,167.08H587.0 M51.0,156.35H55.0 M580.0,156.35H584.0 M51.0,145.62H55.0 M580.0,145.62H584.0 M51.0,134.89H55.0 M580.0,134.89H584.0 M51.0,124.16H55.0 M580.0,124.16H584.0 M48.0,113.43H55.0 M580.0,113.43H587.0 M51.0,102.69H55.0 M580.0,102.69H584.0 M51.0,91.96H55.0 M580.0,91.96H584.0 M51.0,81.23H55.0 M580.0,81.23H584.0 M51.0,70.50H55.0 M580.0,70.50H584.0 M48.0,59.77H55.0 M580.0,59.77H587.0 M51.0,49.04H55.0 M580.0,49.04H584.0 M51.0,38.31H55.0 M580.0,38.31H584.0 M51.0,27.58H55.0 M580.0,27.58H584.0 M51.0,16.85H55.0 M580.0,16.85H584.0 M48.0,6.12H55.0 M580.0,6.12H587.0 M54.8,382V388 M79.4,382V388 M113.1,382V388 M145.5,382V388 M182.0,382V388 M224.2,382V388 M267.5,382V388 M316.8,382V388 M366.0,382V388 M409.3,382V388 M451.3,382V388 M488.1,382V388 M520.3,382V388 M553.6,382V388 M580.0,382V388" stroke="#000" stroke-width="1.3" fill="none"/>
<g font-size="14.6" fill="#111" stroke="#111" stroke-width="0.3">
<text x="44.3" y="387.0" text-anchor="end">0</text><text x="44.3" y="333.3" text-anchor="end">50</text><text x="44.3" y="279.7" text-anchor="end">100</text><text x="44.3" y="226.0" text-anchor="end">150</text><text x="44.3" y="172.4" text-anchor="end">200</text><text x="44.3" y="118.7" text-anchor="end">250</text><text x="44.3" y="65.1" text-anchor="end">300</text><text x="44.3" y="11.4" text-anchor="end">350</text>
<text x="591" y="387.0">0</text><text x="591" y="333.3">50</text><text x="591" y="279.7">100</text><text x="591" y="226.0">150</text><text x="591" y="172.4">200</text><text x="591" y="118.7">250</text><text x="591" y="65.1">300</text><text x="591" y="11.4">350</text>
<text x="55.1" y="404.3" text-anchor="middle">90</text><text x="81.1" y="404.3" text-anchor="middle">70</text><text x="111.9" y="404.3" text-anchor="middle">50</text><text x="144.7" y="404.3" text-anchor="middle">40</text><text x="181.0" y="404.3" text-anchor="middle">30</text><text x="223.4" y="404.3" text-anchor="middle">20</text><text x="267.5" y="404.3" text-anchor="middle">10</text><text x="316.9" y="404.3" text-anchor="middle">0</text><text x="366.7" y="404.3" text-anchor="middle">10</text><text x="409.3" y="404.3" text-anchor="middle">20</text><text x="451.9" y="404.3" text-anchor="middle">30</text><text x="488.0" y="404.3" text-anchor="middle">40</text><text x="521.0" y="404.3" text-anchor="middle">50</text><text x="553.0" y="404.3" text-anchor="middle">70</text><text x="579.9" y="404.3" text-anchor="middle">90</text>
</g>
<text x="315" y="80.9" font-size="18.5" letter-spacing="0.3" text-anchor="middle" fill="#111" stroke="#111" stroke-width="0.25">Surplus</text>
<g font-size="15" letter-spacing="0.4" fill="#111" stroke="#111" stroke-width="0.05" text-anchor="middle">
<text x="320.3" y="196.5">Surplus Heat Energy Transferred</text>
<text x="320.5" y="216.1">By Atmosphere And Oceans</text>
<text x="320.5" y="235.6">To Higher Latitudes</text>
</g>
<text transform="translate(89.8,205.5) rotate(-58)" font-size="20" letter-spacing="0.4" text-anchor="middle" fill="#111" stroke="#111" stroke-width="0.3">Deficit</text>
<text transform="translate(540.8,213.4) rotate(60)" font-size="20" letter-spacing="0.4" text-anchor="middle" fill="#111" stroke="#111" stroke-width="0.3">Deficit</text>
<rect x="229" y="302.3" width="174.4" height="58" fill="#fff" stroke="#222" stroke-width="1.1"/>
<path d="M251.3,318.2H272.2" stroke="#1a72ad" stroke-width="3"/>
<path d="M251.3,344H272.2" stroke="#cc3530" stroke-width="3"/>
<g font-size="14" letter-spacing="0.35" fill="#111" stroke="#111" stroke-width="0.2">
<text x="287.3" y="324">Net Shortwave</text>
<text x="287.3" y="349.7">Net Longwave</text>
</g>
<g font-size="16" letter-spacing="0.45" fill="#111" stroke="#111" stroke-width="0.25">
<text x="132.3" y="432">North</text>
<text x="287.6" y="432">Latitude</text>
<text x="458.3" y="432">South</text>
</g>
<path d="M227,425.7H262.4 M372,425.7H408" stroke="#000" stroke-width="1.8"/>
<path d="M213.5,425.7 L227.8,420.9 L227,425.7 L227.8,430.6 Z" fill="#000"/>
<path d="M421.3,425.7 L407,420.9 L407.8,425.7 L407,430.6 Z" fill="#000"/>
<g transform="translate(13.1,0) rotate(-90)" fill="#111" stroke="#111" stroke-width="0.2"><text x="-231.8" y="0" font-size="16" letter-spacing="0.2">Watts</text><text x="-180.8" y="0" font-size="15">m</text><text x="-168.6" y="-3" font-size="10">-2</text></g>
<g transform="translate(632.9,0) rotate(-90)" fill="#111" stroke="#111" stroke-width="0.2"><text x="-231.8" y="0" font-size="16" letter-spacing="0.2">Watts</text><text x="-180.8" y="0" font-size="15">m</text><text x="-168.6" y="-3" font-size="10">-2</text></g>
</svg>
</body></html>
